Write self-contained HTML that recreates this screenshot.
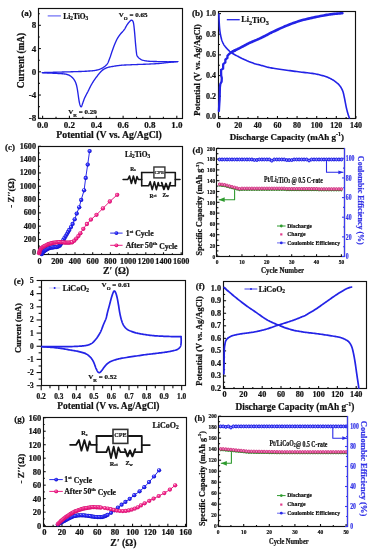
<!DOCTYPE html><html><head><meta charset="utf-8"><style>html,body{margin:0;padding:0;background:#fff;overflow:hidden}svg{display:block;filter:blur(0.3px)}text{font-family:"Liberation Serif", "DejaVu Serif", serif;stroke:currentColor;stroke-width:0.22px}</style></head><body>
<svg xmlns="http://www.w3.org/2000/svg" width="374" height="550" viewBox="0 0 374 550">
<rect width="374" height="550" fill="#fff"/>
<rect x="38.5" y="8.5" width="144" height="110" fill="none" stroke="#111" stroke-width="1.15"/>
<line x1="42.6" y1="118.3" x2="42.6" y2="115.8" stroke="#111" stroke-width="1.1"/>
<text x="42.6" y="125.2" font-size="9" text-anchor="middle" fill="#111" color="#111" font-weight="bold" dominant-baseline="central">0.0</text>
<line x1="69.44" y1="118.3" x2="69.44" y2="115.8" stroke="#111" stroke-width="1.1"/>
<text x="69.44" y="125.2" font-size="9" text-anchor="middle" fill="#111" color="#111" font-weight="bold" dominant-baseline="central">0.2</text>
<line x1="96.28" y1="118.3" x2="96.28" y2="115.8" stroke="#111" stroke-width="1.1"/>
<text x="96.28" y="125.2" font-size="9" text-anchor="middle" fill="#111" color="#111" font-weight="bold" dominant-baseline="central">0.4</text>
<line x1="123.12" y1="118.3" x2="123.12" y2="115.8" stroke="#111" stroke-width="1.1"/>
<text x="123.12" y="125.2" font-size="9" text-anchor="middle" fill="#111" color="#111" font-weight="bold" dominant-baseline="central">0.6</text>
<line x1="149.96" y1="118.3" x2="149.96" y2="115.8" stroke="#111" stroke-width="1.1"/>
<text x="149.96" y="125.2" font-size="9" text-anchor="middle" fill="#111" color="#111" font-weight="bold" dominant-baseline="central">0.8</text>
<line x1="176.8" y1="118.3" x2="176.8" y2="115.8" stroke="#111" stroke-width="1.1"/>
<text x="176.8" y="125.2" font-size="9" text-anchor="middle" fill="#111" color="#111" font-weight="bold" dominant-baseline="central">1.0</text>
<line x1="56.02" y1="118.3" x2="56.02" y2="116.8" stroke="#111" stroke-width="1.1"/>
<line x1="82.86" y1="118.3" x2="82.86" y2="116.8" stroke="#111" stroke-width="1.1"/>
<line x1="109.7" y1="118.3" x2="109.7" y2="116.8" stroke="#111" stroke-width="1.1"/>
<line x1="136.54" y1="118.3" x2="136.54" y2="116.8" stroke="#111" stroke-width="1.1"/>
<line x1="163.38" y1="118.3" x2="163.38" y2="116.8" stroke="#111" stroke-width="1.1"/>
<line x1="38.4" y1="118.28" x2="40.9" y2="118.28" stroke="#111" stroke-width="1.1"/>
<text x="36.3" y="118.28" font-size="9" text-anchor="end" fill="#111" color="#111" font-weight="bold" dominant-baseline="central">-8</text>
<line x1="38.4" y1="95.04" x2="40.9" y2="95.04" stroke="#111" stroke-width="1.1"/>
<text x="36.3" y="95.04" font-size="9" text-anchor="end" fill="#111" color="#111" font-weight="bold" dominant-baseline="central">-4</text>
<line x1="38.4" y1="71.8" x2="40.9" y2="71.8" stroke="#111" stroke-width="1.1"/>
<text x="36.3" y="71.8" font-size="9" text-anchor="end" fill="#111" color="#111" font-weight="bold" dominant-baseline="central">0</text>
<line x1="38.4" y1="48.56" x2="40.9" y2="48.56" stroke="#111" stroke-width="1.1"/>
<text x="36.3" y="48.56" font-size="9" text-anchor="end" fill="#111" color="#111" font-weight="bold" dominant-baseline="central">4</text>
<line x1="38.4" y1="25.32" x2="40.9" y2="25.32" stroke="#111" stroke-width="1.1"/>
<text x="36.3" y="25.32" font-size="9" text-anchor="end" fill="#111" color="#111" font-weight="bold" dominant-baseline="central">8</text>
<line x1="38.4" y1="106.66" x2="39.9" y2="106.66" stroke="#111" stroke-width="1.1"/>
<line x1="38.4" y1="83.42" x2="39.9" y2="83.42" stroke="#111" stroke-width="1.1"/>
<line x1="38.4" y1="60.18" x2="39.9" y2="60.18" stroke="#111" stroke-width="1.1"/>
<line x1="38.4" y1="36.94" x2="39.9" y2="36.94" stroke="#111" stroke-width="1.1"/>
<line x1="38.4" y1="13.7" x2="39.9" y2="13.7" stroke="#111" stroke-width="1.1"/>
<text x="26.5" y="13" font-size="9" text-anchor="middle" fill="#111" color="#111" font-weight="bold" dominant-baseline="central">(a)</text>
<text transform="translate(20.8 60.5) rotate(-90)" font-size="9.3" text-anchor="middle" fill="#111" color="#111" font-weight="bold" dominant-baseline="central">Current (mA)</text>
<text x="109" y="134.8" font-size="9.8" text-anchor="middle" fill="#111" color="#111" font-weight="bold" dominant-baseline="central">Potential (V vs. Ag/AgCl)</text>
<line x1="47.7" y1="15.9" x2="60.9" y2="15.9" stroke="#6b6bf5" stroke-width="1.2"/>
<text x="63.3" y="16.1" font-size="7.4" text-anchor="start" fill="#111" color="#111" font-weight="bold" dominant-baseline="central">Li<tspan font-size="5.4" dy="1.8">2</tspan><tspan dy="-1.8">TiO</tspan><tspan font-size="5.4" dy="1.8">3</tspan></text>
<text x="118.7" y="15" font-size="7" text-anchor="start" fill="#111" color="#111" font-weight="bold" dominant-baseline="central">V<tspan font-size="5" dy="2.5">O</tspan><tspan dy="-2.5"> = 0.65</tspan></text>
<text x="68.3" y="112" font-size="7" text-anchor="start" fill="#111" color="#111" font-weight="bold" dominant-baseline="central">V<tspan font-size="5" dy="3">R</tspan><tspan dy="-3"> = 0.29</tspan></text>
<rect x="218.5" y="11.5" width="137" height="107" fill="none" stroke="#111" stroke-width="1.15"/>
<line x1="218.6" y1="118.5" x2="218.6" y2="116" stroke="#111" stroke-width="1.1"/>
<text x="218.6" y="125" font-size="8" text-anchor="middle" fill="#111" color="#111" font-weight="bold" dominant-baseline="central">0</text>
<line x1="238.22" y1="118.5" x2="238.22" y2="116" stroke="#111" stroke-width="1.1"/>
<text x="238.22" y="125" font-size="8" text-anchor="middle" fill="#111" color="#111" font-weight="bold" dominant-baseline="central">20</text>
<line x1="257.84" y1="118.5" x2="257.84" y2="116" stroke="#111" stroke-width="1.1"/>
<text x="257.84" y="125" font-size="8" text-anchor="middle" fill="#111" color="#111" font-weight="bold" dominant-baseline="central">40</text>
<line x1="277.46" y1="118.5" x2="277.46" y2="116" stroke="#111" stroke-width="1.1"/>
<text x="277.46" y="125" font-size="8" text-anchor="middle" fill="#111" color="#111" font-weight="bold" dominant-baseline="central">60</text>
<line x1="297.08" y1="118.5" x2="297.08" y2="116" stroke="#111" stroke-width="1.1"/>
<text x="297.08" y="125" font-size="8" text-anchor="middle" fill="#111" color="#111" font-weight="bold" dominant-baseline="central">80</text>
<line x1="316.7" y1="118.5" x2="316.7" y2="116" stroke="#111" stroke-width="1.1"/>
<text x="316.7" y="125" font-size="8" text-anchor="middle" fill="#111" color="#111" font-weight="bold" dominant-baseline="central">100</text>
<line x1="336.32" y1="118.5" x2="336.32" y2="116" stroke="#111" stroke-width="1.1"/>
<text x="336.32" y="125" font-size="8" text-anchor="middle" fill="#111" color="#111" font-weight="bold" dominant-baseline="central">120</text>
<line x1="355.94" y1="118.5" x2="355.94" y2="116" stroke="#111" stroke-width="1.1"/>
<text x="355.94" y="125" font-size="8" text-anchor="middle" fill="#111" color="#111" font-weight="bold" dominant-baseline="central">140</text>
<line x1="228.41" y1="118.5" x2="228.41" y2="117" stroke="#111" stroke-width="1.1"/>
<line x1="248.03" y1="118.5" x2="248.03" y2="117" stroke="#111" stroke-width="1.1"/>
<line x1="267.65" y1="118.5" x2="267.65" y2="117" stroke="#111" stroke-width="1.1"/>
<line x1="287.27" y1="118.5" x2="287.27" y2="117" stroke="#111" stroke-width="1.1"/>
<line x1="306.89" y1="118.5" x2="306.89" y2="117" stroke="#111" stroke-width="1.1"/>
<line x1="326.51" y1="118.5" x2="326.51" y2="117" stroke="#111" stroke-width="1.1"/>
<line x1="346.13" y1="118.5" x2="346.13" y2="117" stroke="#111" stroke-width="1.1"/>
<line x1="218.5" y1="116.8" x2="221" y2="116.8" stroke="#111" stroke-width="1.1"/>
<text x="216" y="116.8" font-size="8" text-anchor="end" fill="#111" color="#111" font-weight="bold" dominant-baseline="central">0.0</text>
<line x1="218.5" y1="96.16" x2="221" y2="96.16" stroke="#111" stroke-width="1.1"/>
<text x="216" y="96.16" font-size="8" text-anchor="end" fill="#111" color="#111" font-weight="bold" dominant-baseline="central">0.2</text>
<line x1="218.5" y1="75.52" x2="221" y2="75.52" stroke="#111" stroke-width="1.1"/>
<text x="216" y="75.52" font-size="8" text-anchor="end" fill="#111" color="#111" font-weight="bold" dominant-baseline="central">0.4</text>
<line x1="218.5" y1="54.88" x2="221" y2="54.88" stroke="#111" stroke-width="1.1"/>
<text x="216" y="54.88" font-size="8" text-anchor="end" fill="#111" color="#111" font-weight="bold" dominant-baseline="central">0.6</text>
<line x1="218.5" y1="34.24" x2="221" y2="34.24" stroke="#111" stroke-width="1.1"/>
<text x="216" y="34.24" font-size="8" text-anchor="end" fill="#111" color="#111" font-weight="bold" dominant-baseline="central">0.8</text>
<line x1="218.5" y1="13.6" x2="221" y2="13.6" stroke="#111" stroke-width="1.1"/>
<text x="216" y="13.6" font-size="8" text-anchor="end" fill="#111" color="#111" font-weight="bold" dominant-baseline="central">1.0</text>
<line x1="218.5" y1="106.48" x2="220" y2="106.48" stroke="#111" stroke-width="1.1"/>
<line x1="218.5" y1="85.84" x2="220" y2="85.84" stroke="#111" stroke-width="1.1"/>
<line x1="218.5" y1="65.2" x2="220" y2="65.2" stroke="#111" stroke-width="1.1"/>
<line x1="218.5" y1="44.56" x2="220" y2="44.56" stroke="#111" stroke-width="1.1"/>
<line x1="218.5" y1="23.92" x2="220" y2="23.92" stroke="#111" stroke-width="1.1"/>
<text x="197.4" y="13" font-size="9" text-anchor="middle" fill="#111" color="#111" font-weight="bold" dominant-baseline="central">(b)</text>
<text transform="translate(197.2 70) rotate(-90)" font-size="8.5" text-anchor="middle" fill="#111" color="#111" font-weight="bold" dominant-baseline="central">Potential (V vs. Ag/AgCl)</text>
<text x="286.8" y="137" font-size="9.0" text-anchor="middle" fill="#111" color="#111" font-weight="bold" dominant-baseline="central">Discharge Capacity (mAh g<tspan font-size="6" dy="-3">-1</tspan><tspan dy="3">)</tspan></text>
<rect x="38.5" y="146.5" width="144" height="108" fill="none" stroke="#111" stroke-width="1.15"/>
<line x1="39.6" y1="254.8" x2="39.6" y2="252.3" stroke="#111" stroke-width="1.1"/>
<text x="39.6" y="261" font-size="8.2" text-anchor="middle" fill="#111" color="#111" font-weight="bold" dominant-baseline="central">0</text>
<line x1="57.3" y1="254.8" x2="57.3" y2="252.3" stroke="#111" stroke-width="1.1"/>
<text x="57.3" y="261" font-size="8.2" text-anchor="middle" fill="#111" color="#111" font-weight="bold" dominant-baseline="central">200</text>
<line x1="75" y1="254.8" x2="75" y2="252.3" stroke="#111" stroke-width="1.1"/>
<text x="75" y="261" font-size="8.2" text-anchor="middle" fill="#111" color="#111" font-weight="bold" dominant-baseline="central">400</text>
<line x1="92.7" y1="254.8" x2="92.7" y2="252.3" stroke="#111" stroke-width="1.1"/>
<text x="92.7" y="261" font-size="8.2" text-anchor="middle" fill="#111" color="#111" font-weight="bold" dominant-baseline="central">600</text>
<line x1="110.4" y1="254.8" x2="110.4" y2="252.3" stroke="#111" stroke-width="1.1"/>
<text x="110.4" y="261" font-size="8.2" text-anchor="middle" fill="#111" color="#111" font-weight="bold" dominant-baseline="central">800</text>
<line x1="128.1" y1="254.8" x2="128.1" y2="252.3" stroke="#111" stroke-width="1.1"/>
<text x="128.1" y="261" font-size="8.2" text-anchor="middle" fill="#111" color="#111" font-weight="bold" dominant-baseline="central">1000</text>
<line x1="145.8" y1="254.8" x2="145.8" y2="252.3" stroke="#111" stroke-width="1.1"/>
<text x="145.8" y="261" font-size="8.2" text-anchor="middle" fill="#111" color="#111" font-weight="bold" dominant-baseline="central">1200</text>
<line x1="163.5" y1="254.8" x2="163.5" y2="252.3" stroke="#111" stroke-width="1.1"/>
<text x="163.5" y="261" font-size="8.2" text-anchor="middle" fill="#111" color="#111" font-weight="bold" dominant-baseline="central">1400</text>
<line x1="181.2" y1="254.8" x2="181.2" y2="252.3" stroke="#111" stroke-width="1.1"/>
<text x="181.2" y="261" font-size="8.2" text-anchor="middle" fill="#111" color="#111" font-weight="bold" dominant-baseline="central">1600</text>
<line x1="48.45" y1="254.8" x2="48.45" y2="253.3" stroke="#111" stroke-width="1.1"/>
<line x1="66.15" y1="254.8" x2="66.15" y2="253.3" stroke="#111" stroke-width="1.1"/>
<line x1="83.85" y1="254.8" x2="83.85" y2="253.3" stroke="#111" stroke-width="1.1"/>
<line x1="101.55" y1="254.8" x2="101.55" y2="253.3" stroke="#111" stroke-width="1.1"/>
<line x1="119.25" y1="254.8" x2="119.25" y2="253.3" stroke="#111" stroke-width="1.1"/>
<line x1="136.95" y1="254.8" x2="136.95" y2="253.3" stroke="#111" stroke-width="1.1"/>
<line x1="154.65" y1="254.8" x2="154.65" y2="253.3" stroke="#111" stroke-width="1.1"/>
<line x1="172.35" y1="254.8" x2="172.35" y2="253.3" stroke="#111" stroke-width="1.1"/>
<line x1="38.4" y1="252.8" x2="40.9" y2="252.8" stroke="#111" stroke-width="1.1"/>
<text x="36" y="252.8" font-size="8.2" text-anchor="end" fill="#111" color="#111" font-weight="bold" dominant-baseline="central">0</text>
<line x1="38.4" y1="239.49" x2="40.9" y2="239.49" stroke="#111" stroke-width="1.1"/>
<text x="36" y="239.49" font-size="8.2" text-anchor="end" fill="#111" color="#111" font-weight="bold" dominant-baseline="central">200</text>
<line x1="38.4" y1="226.18" x2="40.9" y2="226.18" stroke="#111" stroke-width="1.1"/>
<text x="36" y="226.18" font-size="8.2" text-anchor="end" fill="#111" color="#111" font-weight="bold" dominant-baseline="central">400</text>
<line x1="38.4" y1="212.86" x2="40.9" y2="212.86" stroke="#111" stroke-width="1.1"/>
<text x="36" y="212.86" font-size="8.2" text-anchor="end" fill="#111" color="#111" font-weight="bold" dominant-baseline="central">600</text>
<line x1="38.4" y1="199.55" x2="40.9" y2="199.55" stroke="#111" stroke-width="1.1"/>
<text x="36" y="199.55" font-size="8.2" text-anchor="end" fill="#111" color="#111" font-weight="bold" dominant-baseline="central">800</text>
<line x1="38.4" y1="186.24" x2="40.9" y2="186.24" stroke="#111" stroke-width="1.1"/>
<text x="36" y="186.24" font-size="8.2" text-anchor="end" fill="#111" color="#111" font-weight="bold" dominant-baseline="central">1000</text>
<line x1="38.4" y1="172.93" x2="40.9" y2="172.93" stroke="#111" stroke-width="1.1"/>
<text x="36" y="172.93" font-size="8.2" text-anchor="end" fill="#111" color="#111" font-weight="bold" dominant-baseline="central">1200</text>
<line x1="38.4" y1="159.62" x2="40.9" y2="159.62" stroke="#111" stroke-width="1.1"/>
<text x="36" y="159.62" font-size="8.2" text-anchor="end" fill="#111" color="#111" font-weight="bold" dominant-baseline="central">1400</text>
<line x1="38.4" y1="146.3" x2="40.9" y2="146.3" stroke="#111" stroke-width="1.1"/>
<text x="36" y="146.3" font-size="8.2" text-anchor="end" fill="#111" color="#111" font-weight="bold" dominant-baseline="central">1600</text>
<line x1="38.4" y1="246.14" x2="39.9" y2="246.14" stroke="#111" stroke-width="1.1"/>
<line x1="38.4" y1="232.83" x2="39.9" y2="232.83" stroke="#111" stroke-width="1.1"/>
<line x1="38.4" y1="219.52" x2="39.9" y2="219.52" stroke="#111" stroke-width="1.1"/>
<line x1="38.4" y1="206.21" x2="39.9" y2="206.21" stroke="#111" stroke-width="1.1"/>
<line x1="38.4" y1="192.9" x2="39.9" y2="192.9" stroke="#111" stroke-width="1.1"/>
<line x1="38.4" y1="179.58" x2="39.9" y2="179.58" stroke="#111" stroke-width="1.1"/>
<line x1="38.4" y1="166.27" x2="39.9" y2="166.27" stroke="#111" stroke-width="1.1"/>
<line x1="38.4" y1="152.96" x2="39.9" y2="152.96" stroke="#111" stroke-width="1.1"/>
<text x="10" y="147.1" font-size="9" text-anchor="middle" fill="#111" color="#111" font-weight="bold" dominant-baseline="central">(c)</text>
<text transform="translate(10.9 193) rotate(-90)" font-size="9.0" text-anchor="middle" fill="#111" color="#111" font-weight="bold" dominant-baseline="central">- Z&#8242;&#8242;(&#937;)</text>
<text x="116" y="270.9" font-size="9.8" text-anchor="middle" fill="#111" color="#111" font-weight="bold" dominant-baseline="central">Z&#8242; (&#937;)</text>
<rect x="216.5" y="148.5" width="128" height="108" fill="none" stroke="#111" stroke-width="1.15"/>
<line x1="217.1" y1="256.7" x2="217.1" y2="254.2" stroke="#111" stroke-width="1.1"/>
<text transform="translate(217.1 261.4) scale(0.8 1)" font-size="6.8" text-anchor="middle" fill="#111" color="#111" font-weight="bold" dominant-baseline="central">0</text>
<line x1="241.96" y1="256.7" x2="241.96" y2="254.2" stroke="#111" stroke-width="1.1"/>
<text transform="translate(241.96 261.4) scale(0.8 1)" font-size="6.8" text-anchor="middle" fill="#111" color="#111" font-weight="bold" dominant-baseline="central">10</text>
<line x1="266.82" y1="256.7" x2="266.82" y2="254.2" stroke="#111" stroke-width="1.1"/>
<text transform="translate(266.82 261.4) scale(0.8 1)" font-size="6.8" text-anchor="middle" fill="#111" color="#111" font-weight="bold" dominant-baseline="central">20</text>
<line x1="291.68" y1="256.7" x2="291.68" y2="254.2" stroke="#111" stroke-width="1.1"/>
<text transform="translate(291.68 261.4) scale(0.8 1)" font-size="6.8" text-anchor="middle" fill="#111" color="#111" font-weight="bold" dominant-baseline="central">30</text>
<line x1="316.54" y1="256.7" x2="316.54" y2="254.2" stroke="#111" stroke-width="1.1"/>
<text transform="translate(316.54 261.4) scale(0.8 1)" font-size="6.8" text-anchor="middle" fill="#111" color="#111" font-weight="bold" dominant-baseline="central">40</text>
<line x1="341.4" y1="256.7" x2="341.4" y2="254.2" stroke="#111" stroke-width="1.1"/>
<text transform="translate(341.4 261.4) scale(0.8 1)" font-size="6.8" text-anchor="middle" fill="#111" color="#111" font-weight="bold" dominant-baseline="central">50</text>
<line x1="229.53" y1="256.7" x2="229.53" y2="255.2" stroke="#111" stroke-width="1.1"/>
<line x1="254.39" y1="256.7" x2="254.39" y2="255.2" stroke="#111" stroke-width="1.1"/>
<line x1="279.25" y1="256.7" x2="279.25" y2="255.2" stroke="#111" stroke-width="1.1"/>
<line x1="304.11" y1="256.7" x2="304.11" y2="255.2" stroke="#111" stroke-width="1.1"/>
<line x1="328.97" y1="256.7" x2="328.97" y2="255.2" stroke="#111" stroke-width="1.1"/>
<line x1="216.9" y1="256.3" x2="219.4" y2="256.3" stroke="#111" stroke-width="1.1"/>
<text transform="translate(215.2 256.3) scale(0.8 1)" font-size="6.8" text-anchor="end" fill="#111" color="#111" font-weight="bold" dominant-baseline="central">0</text>
<line x1="216.9" y1="245.5" x2="219.4" y2="245.5" stroke="#111" stroke-width="1.1"/>
<text transform="translate(215.2 245.5) scale(0.8 1)" font-size="6.8" text-anchor="end" fill="#111" color="#111" font-weight="bold" dominant-baseline="central">20</text>
<line x1="216.9" y1="234.7" x2="219.4" y2="234.7" stroke="#111" stroke-width="1.1"/>
<text transform="translate(215.2 234.7) scale(0.8 1)" font-size="6.8" text-anchor="end" fill="#111" color="#111" font-weight="bold" dominant-baseline="central">40</text>
<line x1="216.9" y1="223.9" x2="219.4" y2="223.9" stroke="#111" stroke-width="1.1"/>
<text transform="translate(215.2 223.9) scale(0.8 1)" font-size="6.8" text-anchor="end" fill="#111" color="#111" font-weight="bold" dominant-baseline="central">60</text>
<line x1="216.9" y1="213.1" x2="219.4" y2="213.1" stroke="#111" stroke-width="1.1"/>
<text transform="translate(215.2 213.1) scale(0.8 1)" font-size="6.8" text-anchor="end" fill="#111" color="#111" font-weight="bold" dominant-baseline="central">80</text>
<line x1="216.9" y1="202.3" x2="219.4" y2="202.3" stroke="#111" stroke-width="1.1"/>
<text transform="translate(215.2 202.3) scale(0.8 1)" font-size="6.8" text-anchor="end" fill="#111" color="#111" font-weight="bold" dominant-baseline="central">100</text>
<line x1="216.9" y1="191.5" x2="219.4" y2="191.5" stroke="#111" stroke-width="1.1"/>
<text transform="translate(215.2 191.5) scale(0.8 1)" font-size="6.8" text-anchor="end" fill="#111" color="#111" font-weight="bold" dominant-baseline="central">120</text>
<line x1="216.9" y1="180.7" x2="219.4" y2="180.7" stroke="#111" stroke-width="1.1"/>
<text transform="translate(215.2 180.7) scale(0.8 1)" font-size="6.8" text-anchor="end" fill="#111" color="#111" font-weight="bold" dominant-baseline="central">140</text>
<line x1="216.9" y1="169.9" x2="219.4" y2="169.9" stroke="#111" stroke-width="1.1"/>
<text transform="translate(215.2 169.9) scale(0.8 1)" font-size="6.8" text-anchor="end" fill="#111" color="#111" font-weight="bold" dominant-baseline="central">160</text>
<line x1="216.9" y1="159.1" x2="219.4" y2="159.1" stroke="#111" stroke-width="1.1"/>
<text transform="translate(215.2 159.1) scale(0.8 1)" font-size="6.8" text-anchor="end" fill="#111" color="#111" font-weight="bold" dominant-baseline="central">180</text>
<line x1="216.9" y1="148.3" x2="219.4" y2="148.3" stroke="#111" stroke-width="1.1"/>
<text transform="translate(215.2 148.3) scale(0.8 1)" font-size="6.8" text-anchor="end" fill="#111" color="#111" font-weight="bold" dominant-baseline="central">200</text>
<line x1="216.9" y1="250.9" x2="218.4" y2="250.9" stroke="#111" stroke-width="1.1"/>
<line x1="216.9" y1="240.1" x2="218.4" y2="240.1" stroke="#111" stroke-width="1.1"/>
<line x1="216.9" y1="229.3" x2="218.4" y2="229.3" stroke="#111" stroke-width="1.1"/>
<line x1="216.9" y1="218.5" x2="218.4" y2="218.5" stroke="#111" stroke-width="1.1"/>
<line x1="216.9" y1="207.7" x2="218.4" y2="207.7" stroke="#111" stroke-width="1.1"/>
<line x1="216.9" y1="196.9" x2="218.4" y2="196.9" stroke="#111" stroke-width="1.1"/>
<line x1="216.9" y1="186.1" x2="218.4" y2="186.1" stroke="#111" stroke-width="1.1"/>
<line x1="216.9" y1="175.3" x2="218.4" y2="175.3" stroke="#111" stroke-width="1.1"/>
<line x1="216.9" y1="164.5" x2="218.4" y2="164.5" stroke="#111" stroke-width="1.1"/>
<line x1="216.9" y1="153.7" x2="218.4" y2="153.7" stroke="#111" stroke-width="1.1"/>
<text x="197.8" y="150.4" font-size="8.6" text-anchor="middle" fill="#111" color="#111" font-weight="bold" dominant-baseline="central">(d)</text>
<text transform="translate(282.6 270.8) scale(0.86 1)" font-size="8.1" text-anchor="middle" fill="#111" color="#111" font-weight="bold" dominant-baseline="central">Cycle Number</text>
<rect x="41.5" y="280.5" width="144" height="105" fill="none" stroke="#111" stroke-width="1.15"/>
<line x1="41.2" y1="385.7" x2="41.2" y2="390.3" stroke="#111" stroke-width="1.1"/>
<text x="41.2" y="396.2" font-size="7.4" text-anchor="middle" fill="#111" color="#111" font-weight="bold" dominant-baseline="central">0.2</text>
<line x1="58.76" y1="385.7" x2="58.76" y2="390.3" stroke="#111" stroke-width="1.1"/>
<text x="58.76" y="396.2" font-size="7.4" text-anchor="middle" fill="#111" color="#111" font-weight="bold" dominant-baseline="central">0.3</text>
<line x1="76.32" y1="385.7" x2="76.32" y2="390.3" stroke="#111" stroke-width="1.1"/>
<text x="76.32" y="396.2" font-size="7.4" text-anchor="middle" fill="#111" color="#111" font-weight="bold" dominant-baseline="central">0.4</text>
<line x1="93.88" y1="385.7" x2="93.88" y2="390.3" stroke="#111" stroke-width="1.1"/>
<text x="93.88" y="396.2" font-size="7.4" text-anchor="middle" fill="#111" color="#111" font-weight="bold" dominant-baseline="central">0.5</text>
<line x1="111.44" y1="385.7" x2="111.44" y2="390.3" stroke="#111" stroke-width="1.1"/>
<text x="111.44" y="396.2" font-size="7.4" text-anchor="middle" fill="#111" color="#111" font-weight="bold" dominant-baseline="central">0.6</text>
<line x1="129" y1="385.7" x2="129" y2="390.3" stroke="#111" stroke-width="1.1"/>
<text x="129" y="396.2" font-size="7.4" text-anchor="middle" fill="#111" color="#111" font-weight="bold" dominant-baseline="central">0.7</text>
<line x1="146.56" y1="385.7" x2="146.56" y2="390.3" stroke="#111" stroke-width="1.1"/>
<text x="146.56" y="396.2" font-size="7.4" text-anchor="middle" fill="#111" color="#111" font-weight="bold" dominant-baseline="central">0.8</text>
<line x1="164.12" y1="385.7" x2="164.12" y2="390.3" stroke="#111" stroke-width="1.1"/>
<text x="164.12" y="396.2" font-size="7.4" text-anchor="middle" fill="#111" color="#111" font-weight="bold" dominant-baseline="central">0.9</text>
<line x1="181.68" y1="385.7" x2="181.68" y2="390.3" stroke="#111" stroke-width="1.1"/>
<text x="181.68" y="396.2" font-size="7.4" text-anchor="middle" fill="#111" color="#111" font-weight="bold" dominant-baseline="central">1.0</text>
<line x1="49.98" y1="385.7" x2="49.98" y2="388.3" stroke="#111" stroke-width="1.1"/>
<line x1="67.54" y1="385.7" x2="67.54" y2="388.3" stroke="#111" stroke-width="1.1"/>
<line x1="85.1" y1="385.7" x2="85.1" y2="388.3" stroke="#111" stroke-width="1.1"/>
<line x1="102.66" y1="385.7" x2="102.66" y2="388.3" stroke="#111" stroke-width="1.1"/>
<line x1="120.22" y1="385.7" x2="120.22" y2="388.3" stroke="#111" stroke-width="1.1"/>
<line x1="137.78" y1="385.7" x2="137.78" y2="388.3" stroke="#111" stroke-width="1.1"/>
<line x1="155.34" y1="385.7" x2="155.34" y2="388.3" stroke="#111" stroke-width="1.1"/>
<line x1="172.9" y1="385.7" x2="172.9" y2="388.3" stroke="#111" stroke-width="1.1"/>
<line x1="41.2" y1="385.7" x2="36.6" y2="385.7" stroke="#111" stroke-width="1.1"/>
<text x="33.6" y="385.7" font-size="7.4" text-anchor="end" fill="#111" color="#111" font-weight="bold" dominant-baseline="central">-3</text>
<line x1="41.2" y1="372.55" x2="36.6" y2="372.55" stroke="#111" stroke-width="1.1"/>
<text x="33.6" y="372.55" font-size="7.4" text-anchor="end" fill="#111" color="#111" font-weight="bold" dominant-baseline="central">-2</text>
<line x1="41.2" y1="359.4" x2="36.6" y2="359.4" stroke="#111" stroke-width="1.1"/>
<text x="33.6" y="359.4" font-size="7.4" text-anchor="end" fill="#111" color="#111" font-weight="bold" dominant-baseline="central">-1</text>
<line x1="41.2" y1="346.25" x2="36.6" y2="346.25" stroke="#111" stroke-width="1.1"/>
<text x="33.6" y="346.25" font-size="7.4" text-anchor="end" fill="#111" color="#111" font-weight="bold" dominant-baseline="central">0</text>
<line x1="41.2" y1="333.1" x2="36.6" y2="333.1" stroke="#111" stroke-width="1.1"/>
<text x="33.6" y="333.1" font-size="7.4" text-anchor="end" fill="#111" color="#111" font-weight="bold" dominant-baseline="central">1</text>
<line x1="41.2" y1="319.95" x2="36.6" y2="319.95" stroke="#111" stroke-width="1.1"/>
<text x="33.6" y="319.95" font-size="7.4" text-anchor="end" fill="#111" color="#111" font-weight="bold" dominant-baseline="central">2</text>
<line x1="41.2" y1="306.8" x2="36.6" y2="306.8" stroke="#111" stroke-width="1.1"/>
<text x="33.6" y="306.8" font-size="7.4" text-anchor="end" fill="#111" color="#111" font-weight="bold" dominant-baseline="central">3</text>
<line x1="41.2" y1="293.65" x2="36.6" y2="293.65" stroke="#111" stroke-width="1.1"/>
<text x="33.6" y="293.65" font-size="7.4" text-anchor="end" fill="#111" color="#111" font-weight="bold" dominant-baseline="central">4</text>
<line x1="41.2" y1="280.5" x2="36.6" y2="280.5" stroke="#111" stroke-width="1.1"/>
<text x="33.6" y="280.5" font-size="7.4" text-anchor="end" fill="#111" color="#111" font-weight="bold" dominant-baseline="central">5</text>
<line x1="41.2" y1="379.12" x2="38.6" y2="379.12" stroke="#111" stroke-width="1.1"/>
<line x1="41.2" y1="365.98" x2="38.6" y2="365.98" stroke="#111" stroke-width="1.1"/>
<line x1="41.2" y1="352.82" x2="38.6" y2="352.82" stroke="#111" stroke-width="1.1"/>
<line x1="41.2" y1="339.68" x2="38.6" y2="339.68" stroke="#111" stroke-width="1.1"/>
<line x1="41.2" y1="326.52" x2="38.6" y2="326.52" stroke="#111" stroke-width="1.1"/>
<line x1="41.2" y1="313.38" x2="38.6" y2="313.38" stroke="#111" stroke-width="1.1"/>
<line x1="41.2" y1="300.23" x2="38.6" y2="300.23" stroke="#111" stroke-width="1.1"/>
<line x1="41.2" y1="287.07" x2="38.6" y2="287.07" stroke="#111" stroke-width="1.1"/>
<text x="18.8" y="280.5" font-size="9" text-anchor="middle" fill="#111" color="#111" font-weight="bold" dominant-baseline="central">(e)</text>
<rect x="223.5" y="281.5" width="143" height="107" fill="none" stroke="#111" stroke-width="1.15"/>
<line x1="224.6" y1="388.5" x2="224.6" y2="386" stroke="#111" stroke-width="1.1"/>
<text x="224.6" y="394.8" font-size="8.2" text-anchor="middle" fill="#111" color="#111" font-weight="bold" dominant-baseline="central">0</text>
<line x1="243.4" y1="388.5" x2="243.4" y2="386" stroke="#111" stroke-width="1.1"/>
<text x="243.4" y="394.8" font-size="8.2" text-anchor="middle" fill="#111" color="#111" font-weight="bold" dominant-baseline="central">20</text>
<line x1="262.2" y1="388.5" x2="262.2" y2="386" stroke="#111" stroke-width="1.1"/>
<text x="262.2" y="394.8" font-size="8.2" text-anchor="middle" fill="#111" color="#111" font-weight="bold" dominant-baseline="central">40</text>
<line x1="281" y1="388.5" x2="281" y2="386" stroke="#111" stroke-width="1.1"/>
<text x="281" y="394.8" font-size="8.2" text-anchor="middle" fill="#111" color="#111" font-weight="bold" dominant-baseline="central">60</text>
<line x1="299.8" y1="388.5" x2="299.8" y2="386" stroke="#111" stroke-width="1.1"/>
<text x="299.8" y="394.8" font-size="8.2" text-anchor="middle" fill="#111" color="#111" font-weight="bold" dominant-baseline="central">80</text>
<line x1="318.6" y1="388.5" x2="318.6" y2="386" stroke="#111" stroke-width="1.1"/>
<text x="318.6" y="394.8" font-size="8.2" text-anchor="middle" fill="#111" color="#111" font-weight="bold" dominant-baseline="central">100</text>
<line x1="337.4" y1="388.5" x2="337.4" y2="386" stroke="#111" stroke-width="1.1"/>
<text x="337.4" y="394.8" font-size="8.2" text-anchor="middle" fill="#111" color="#111" font-weight="bold" dominant-baseline="central">120</text>
<line x1="356.2" y1="388.5" x2="356.2" y2="386" stroke="#111" stroke-width="1.1"/>
<text x="356.2" y="394.8" font-size="8.2" text-anchor="middle" fill="#111" color="#111" font-weight="bold" dominant-baseline="central">140</text>
<line x1="234" y1="388.5" x2="234" y2="387" stroke="#111" stroke-width="1.1"/>
<line x1="252.8" y1="388.5" x2="252.8" y2="387" stroke="#111" stroke-width="1.1"/>
<line x1="271.6" y1="388.5" x2="271.6" y2="387" stroke="#111" stroke-width="1.1"/>
<line x1="290.4" y1="388.5" x2="290.4" y2="387" stroke="#111" stroke-width="1.1"/>
<line x1="309.2" y1="388.5" x2="309.2" y2="387" stroke="#111" stroke-width="1.1"/>
<line x1="328" y1="388.5" x2="328" y2="387" stroke="#111" stroke-width="1.1"/>
<line x1="346.8" y1="388.5" x2="346.8" y2="387" stroke="#111" stroke-width="1.1"/>
<line x1="223.6" y1="388.5" x2="226.1" y2="388.5" stroke="#111" stroke-width="1.1"/>
<text x="221" y="388.5" font-size="8.2" text-anchor="end" fill="#111" color="#111" font-weight="bold" dominant-baseline="central">0.2</text>
<line x1="223.6" y1="375.96" x2="226.1" y2="375.96" stroke="#111" stroke-width="1.1"/>
<text x="221" y="375.96" font-size="8.2" text-anchor="end" fill="#111" color="#111" font-weight="bold" dominant-baseline="central">0.3</text>
<line x1="223.6" y1="363.42" x2="226.1" y2="363.42" stroke="#111" stroke-width="1.1"/>
<text x="221" y="363.42" font-size="8.2" text-anchor="end" fill="#111" color="#111" font-weight="bold" dominant-baseline="central">0.4</text>
<line x1="223.6" y1="350.88" x2="226.1" y2="350.88" stroke="#111" stroke-width="1.1"/>
<text x="221" y="350.88" font-size="8.2" text-anchor="end" fill="#111" color="#111" font-weight="bold" dominant-baseline="central">0.5</text>
<line x1="223.6" y1="338.34" x2="226.1" y2="338.34" stroke="#111" stroke-width="1.1"/>
<text x="221" y="338.34" font-size="8.2" text-anchor="end" fill="#111" color="#111" font-weight="bold" dominant-baseline="central">0.6</text>
<line x1="223.6" y1="325.8" x2="226.1" y2="325.8" stroke="#111" stroke-width="1.1"/>
<text x="221" y="325.8" font-size="8.2" text-anchor="end" fill="#111" color="#111" font-weight="bold" dominant-baseline="central">0.7</text>
<line x1="223.6" y1="313.26" x2="226.1" y2="313.26" stroke="#111" stroke-width="1.1"/>
<text x="221" y="313.26" font-size="8.2" text-anchor="end" fill="#111" color="#111" font-weight="bold" dominant-baseline="central">0.8</text>
<line x1="223.6" y1="300.72" x2="226.1" y2="300.72" stroke="#111" stroke-width="1.1"/>
<text x="221" y="300.72" font-size="8.2" text-anchor="end" fill="#111" color="#111" font-weight="bold" dominant-baseline="central">0.9</text>
<line x1="223.6" y1="288.18" x2="226.1" y2="288.18" stroke="#111" stroke-width="1.1"/>
<text x="221" y="288.18" font-size="8.2" text-anchor="end" fill="#111" color="#111" font-weight="bold" dominant-baseline="central">1.0</text>
<line x1="223.6" y1="382.23" x2="225.1" y2="382.23" stroke="#111" stroke-width="1.1"/>
<line x1="223.6" y1="369.69" x2="225.1" y2="369.69" stroke="#111" stroke-width="1.1"/>
<line x1="223.6" y1="357.15" x2="225.1" y2="357.15" stroke="#111" stroke-width="1.1"/>
<line x1="223.6" y1="344.61" x2="225.1" y2="344.61" stroke="#111" stroke-width="1.1"/>
<line x1="223.6" y1="332.07" x2="225.1" y2="332.07" stroke="#111" stroke-width="1.1"/>
<line x1="223.6" y1="319.53" x2="225.1" y2="319.53" stroke="#111" stroke-width="1.1"/>
<line x1="223.6" y1="306.99" x2="225.1" y2="306.99" stroke="#111" stroke-width="1.1"/>
<line x1="223.6" y1="294.45" x2="225.1" y2="294.45" stroke="#111" stroke-width="1.1"/>
<text x="200.3" y="286.2" font-size="9" text-anchor="middle" fill="#111" color="#111" font-weight="bold" dominant-baseline="central">(f)</text>
<rect x="43.5" y="417.5" width="143" height="109" fill="none" stroke="#111" stroke-width="1.15"/>
<line x1="44.3" y1="526.3" x2="44.3" y2="523.8" stroke="#111" stroke-width="1.1"/>
<text x="44.3" y="532.3" font-size="8.5" text-anchor="middle" fill="#111" color="#111" font-weight="bold" dominant-baseline="central">0</text>
<line x1="61.95" y1="526.3" x2="61.95" y2="523.8" stroke="#111" stroke-width="1.1"/>
<text x="61.95" y="532.3" font-size="8.5" text-anchor="middle" fill="#111" color="#111" font-weight="bold" dominant-baseline="central">20</text>
<line x1="79.6" y1="526.3" x2="79.6" y2="523.8" stroke="#111" stroke-width="1.1"/>
<text x="79.6" y="532.3" font-size="8.5" text-anchor="middle" fill="#111" color="#111" font-weight="bold" dominant-baseline="central">40</text>
<line x1="97.25" y1="526.3" x2="97.25" y2="523.8" stroke="#111" stroke-width="1.1"/>
<text x="97.25" y="532.3" font-size="8.5" text-anchor="middle" fill="#111" color="#111" font-weight="bold" dominant-baseline="central">60</text>
<line x1="114.9" y1="526.3" x2="114.9" y2="523.8" stroke="#111" stroke-width="1.1"/>
<text x="114.9" y="532.3" font-size="8.5" text-anchor="middle" fill="#111" color="#111" font-weight="bold" dominant-baseline="central">80</text>
<line x1="132.55" y1="526.3" x2="132.55" y2="523.8" stroke="#111" stroke-width="1.1"/>
<text x="132.55" y="532.3" font-size="8.5" text-anchor="middle" fill="#111" color="#111" font-weight="bold" dominant-baseline="central">100</text>
<line x1="150.2" y1="526.3" x2="150.2" y2="523.8" stroke="#111" stroke-width="1.1"/>
<text x="150.2" y="532.3" font-size="8.5" text-anchor="middle" fill="#111" color="#111" font-weight="bold" dominant-baseline="central">120</text>
<line x1="167.85" y1="526.3" x2="167.85" y2="523.8" stroke="#111" stroke-width="1.1"/>
<text x="167.85" y="532.3" font-size="8.5" text-anchor="middle" fill="#111" color="#111" font-weight="bold" dominant-baseline="central">140</text>
<line x1="185.5" y1="526.3" x2="185.5" y2="523.8" stroke="#111" stroke-width="1.1"/>
<text x="185.5" y="532.3" font-size="8.5" text-anchor="middle" fill="#111" color="#111" font-weight="bold" dominant-baseline="central">160</text>
<line x1="53.12" y1="526.3" x2="53.12" y2="524.8" stroke="#111" stroke-width="1.1"/>
<line x1="70.77" y1="526.3" x2="70.77" y2="524.8" stroke="#111" stroke-width="1.1"/>
<line x1="88.42" y1="526.3" x2="88.42" y2="524.8" stroke="#111" stroke-width="1.1"/>
<line x1="106.07" y1="526.3" x2="106.07" y2="524.8" stroke="#111" stroke-width="1.1"/>
<line x1="123.72" y1="526.3" x2="123.72" y2="524.8" stroke="#111" stroke-width="1.1"/>
<line x1="141.38" y1="526.3" x2="141.38" y2="524.8" stroke="#111" stroke-width="1.1"/>
<line x1="159.02" y1="526.3" x2="159.02" y2="524.8" stroke="#111" stroke-width="1.1"/>
<line x1="176.68" y1="526.3" x2="176.68" y2="524.8" stroke="#111" stroke-width="1.1"/>
<line x1="43.2" y1="525.6" x2="45.7" y2="525.6" stroke="#111" stroke-width="1.1"/>
<text x="41.2" y="525.6" font-size="8.5" text-anchor="end" fill="#111" color="#111" font-weight="bold" dominant-baseline="central">0</text>
<line x1="43.2" y1="512.12" x2="45.7" y2="512.12" stroke="#111" stroke-width="1.1"/>
<text x="41.2" y="512.12" font-size="8.5" text-anchor="end" fill="#111" color="#111" font-weight="bold" dominant-baseline="central">20</text>
<line x1="43.2" y1="498.64" x2="45.7" y2="498.64" stroke="#111" stroke-width="1.1"/>
<text x="41.2" y="498.64" font-size="8.5" text-anchor="end" fill="#111" color="#111" font-weight="bold" dominant-baseline="central">40</text>
<line x1="43.2" y1="485.16" x2="45.7" y2="485.16" stroke="#111" stroke-width="1.1"/>
<text x="41.2" y="485.16" font-size="8.5" text-anchor="end" fill="#111" color="#111" font-weight="bold" dominant-baseline="central">60</text>
<line x1="43.2" y1="471.68" x2="45.7" y2="471.68" stroke="#111" stroke-width="1.1"/>
<text x="41.2" y="471.68" font-size="8.5" text-anchor="end" fill="#111" color="#111" font-weight="bold" dominant-baseline="central">80</text>
<line x1="43.2" y1="458.2" x2="45.7" y2="458.2" stroke="#111" stroke-width="1.1"/>
<text x="41.2" y="458.2" font-size="8.5" text-anchor="end" fill="#111" color="#111" font-weight="bold" dominant-baseline="central">100</text>
<line x1="43.2" y1="444.72" x2="45.7" y2="444.72" stroke="#111" stroke-width="1.1"/>
<text x="41.2" y="444.72" font-size="8.5" text-anchor="end" fill="#111" color="#111" font-weight="bold" dominant-baseline="central">120</text>
<line x1="43.2" y1="431.24" x2="45.7" y2="431.24" stroke="#111" stroke-width="1.1"/>
<text x="41.2" y="431.24" font-size="8.5" text-anchor="end" fill="#111" color="#111" font-weight="bold" dominant-baseline="central">140</text>
<line x1="43.2" y1="417.76" x2="45.7" y2="417.76" stroke="#111" stroke-width="1.1"/>
<text x="41.2" y="417.76" font-size="8.5" text-anchor="end" fill="#111" color="#111" font-weight="bold" dominant-baseline="central">160</text>
<line x1="43.2" y1="518.86" x2="44.7" y2="518.86" stroke="#111" stroke-width="1.1"/>
<line x1="43.2" y1="505.38" x2="44.7" y2="505.38" stroke="#111" stroke-width="1.1"/>
<line x1="43.2" y1="491.9" x2="44.7" y2="491.9" stroke="#111" stroke-width="1.1"/>
<line x1="43.2" y1="478.42" x2="44.7" y2="478.42" stroke="#111" stroke-width="1.1"/>
<line x1="43.2" y1="464.94" x2="44.7" y2="464.94" stroke="#111" stroke-width="1.1"/>
<line x1="43.2" y1="451.46" x2="44.7" y2="451.46" stroke="#111" stroke-width="1.1"/>
<line x1="43.2" y1="437.98" x2="44.7" y2="437.98" stroke="#111" stroke-width="1.1"/>
<line x1="43.2" y1="424.5" x2="44.7" y2="424.5" stroke="#111" stroke-width="1.1"/>
<text x="19.5" y="419.3" font-size="9" text-anchor="middle" fill="#111" color="#111" font-weight="bold" dominant-baseline="central">(g)</text>
<rect x="218.5" y="416.5" width="129" height="110" fill="none" stroke="#111" stroke-width="1.15"/>
<line x1="218.1" y1="526.5" x2="218.1" y2="524" stroke="#111" stroke-width="1.1"/>
<text transform="translate(218.1 531.6) scale(0.8 1)" font-size="6.8" text-anchor="middle" fill="#111" color="#111" font-weight="bold" dominant-baseline="central">0</text>
<line x1="243.7" y1="526.5" x2="243.7" y2="524" stroke="#111" stroke-width="1.1"/>
<text transform="translate(243.7 531.6) scale(0.8 1)" font-size="6.8" text-anchor="middle" fill="#111" color="#111" font-weight="bold" dominant-baseline="central">10</text>
<line x1="269.3" y1="526.5" x2="269.3" y2="524" stroke="#111" stroke-width="1.1"/>
<text transform="translate(269.3 531.6) scale(0.8 1)" font-size="6.8" text-anchor="middle" fill="#111" color="#111" font-weight="bold" dominant-baseline="central">20</text>
<line x1="294.9" y1="526.5" x2="294.9" y2="524" stroke="#111" stroke-width="1.1"/>
<text transform="translate(294.9 531.6) scale(0.8 1)" font-size="6.8" text-anchor="middle" fill="#111" color="#111" font-weight="bold" dominant-baseline="central">30</text>
<line x1="320.5" y1="526.5" x2="320.5" y2="524" stroke="#111" stroke-width="1.1"/>
<text transform="translate(320.5 531.6) scale(0.8 1)" font-size="6.8" text-anchor="middle" fill="#111" color="#111" font-weight="bold" dominant-baseline="central">40</text>
<line x1="346.1" y1="526.5" x2="346.1" y2="524" stroke="#111" stroke-width="1.1"/>
<text transform="translate(346.1 531.6) scale(0.8 1)" font-size="6.8" text-anchor="middle" fill="#111" color="#111" font-weight="bold" dominant-baseline="central">50</text>
<line x1="230.9" y1="526.5" x2="230.9" y2="525" stroke="#111" stroke-width="1.1"/>
<line x1="256.5" y1="526.5" x2="256.5" y2="525" stroke="#111" stroke-width="1.1"/>
<line x1="282.1" y1="526.5" x2="282.1" y2="525" stroke="#111" stroke-width="1.1"/>
<line x1="307.7" y1="526.5" x2="307.7" y2="525" stroke="#111" stroke-width="1.1"/>
<line x1="333.3" y1="526.5" x2="333.3" y2="525" stroke="#111" stroke-width="1.1"/>
<line x1="218.6" y1="526.2" x2="221.1" y2="526.2" stroke="#111" stroke-width="1.1"/>
<text transform="translate(216.7 526.2) scale(0.8 1)" font-size="6.8" text-anchor="end" fill="#111" color="#111" font-weight="bold" dominant-baseline="central">0</text>
<line x1="218.6" y1="515.2" x2="221.1" y2="515.2" stroke="#111" stroke-width="1.1"/>
<text transform="translate(216.7 515.2) scale(0.8 1)" font-size="6.8" text-anchor="end" fill="#111" color="#111" font-weight="bold" dominant-baseline="central">20</text>
<line x1="218.6" y1="504.2" x2="221.1" y2="504.2" stroke="#111" stroke-width="1.1"/>
<text transform="translate(216.7 504.2) scale(0.8 1)" font-size="6.8" text-anchor="end" fill="#111" color="#111" font-weight="bold" dominant-baseline="central">40</text>
<line x1="218.6" y1="493.2" x2="221.1" y2="493.2" stroke="#111" stroke-width="1.1"/>
<text transform="translate(216.7 493.2) scale(0.8 1)" font-size="6.8" text-anchor="end" fill="#111" color="#111" font-weight="bold" dominant-baseline="central">60</text>
<line x1="218.6" y1="482.2" x2="221.1" y2="482.2" stroke="#111" stroke-width="1.1"/>
<text transform="translate(216.7 482.2) scale(0.8 1)" font-size="6.8" text-anchor="end" fill="#111" color="#111" font-weight="bold" dominant-baseline="central">80</text>
<line x1="218.6" y1="471.2" x2="221.1" y2="471.2" stroke="#111" stroke-width="1.1"/>
<text transform="translate(216.7 471.2) scale(0.8 1)" font-size="6.8" text-anchor="end" fill="#111" color="#111" font-weight="bold" dominant-baseline="central">100</text>
<line x1="218.6" y1="460.2" x2="221.1" y2="460.2" stroke="#111" stroke-width="1.1"/>
<text transform="translate(216.7 460.2) scale(0.8 1)" font-size="6.8" text-anchor="end" fill="#111" color="#111" font-weight="bold" dominant-baseline="central">120</text>
<line x1="218.6" y1="449.2" x2="221.1" y2="449.2" stroke="#111" stroke-width="1.1"/>
<text transform="translate(216.7 449.2) scale(0.8 1)" font-size="6.8" text-anchor="end" fill="#111" color="#111" font-weight="bold" dominant-baseline="central">140</text>
<line x1="218.6" y1="438.2" x2="221.1" y2="438.2" stroke="#111" stroke-width="1.1"/>
<text transform="translate(216.7 438.2) scale(0.8 1)" font-size="6.8" text-anchor="end" fill="#111" color="#111" font-weight="bold" dominant-baseline="central">160</text>
<line x1="218.6" y1="427.2" x2="221.1" y2="427.2" stroke="#111" stroke-width="1.1"/>
<text transform="translate(216.7 427.2) scale(0.8 1)" font-size="6.8" text-anchor="end" fill="#111" color="#111" font-weight="bold" dominant-baseline="central">180</text>
<line x1="218.6" y1="416.2" x2="221.1" y2="416.2" stroke="#111" stroke-width="1.1"/>
<text transform="translate(216.7 416.2) scale(0.8 1)" font-size="6.8" text-anchor="end" fill="#111" color="#111" font-weight="bold" dominant-baseline="central">200</text>
<line x1="218.6" y1="520.7" x2="220.1" y2="520.7" stroke="#111" stroke-width="1.1"/>
<line x1="218.6" y1="509.7" x2="220.1" y2="509.7" stroke="#111" stroke-width="1.1"/>
<line x1="218.6" y1="498.7" x2="220.1" y2="498.7" stroke="#111" stroke-width="1.1"/>
<line x1="218.6" y1="487.7" x2="220.1" y2="487.7" stroke="#111" stroke-width="1.1"/>
<line x1="218.6" y1="476.7" x2="220.1" y2="476.7" stroke="#111" stroke-width="1.1"/>
<line x1="218.6" y1="465.7" x2="220.1" y2="465.7" stroke="#111" stroke-width="1.1"/>
<line x1="218.6" y1="454.7" x2="220.1" y2="454.7" stroke="#111" stroke-width="1.1"/>
<line x1="218.6" y1="443.7" x2="220.1" y2="443.7" stroke="#111" stroke-width="1.1"/>
<line x1="218.6" y1="432.7" x2="220.1" y2="432.7" stroke="#111" stroke-width="1.1"/>
<line x1="218.6" y1="421.7" x2="220.1" y2="421.7" stroke="#111" stroke-width="1.1"/>
<text x="199.8" y="418.2" font-size="8.5" text-anchor="middle" fill="#111" color="#111" font-weight="bold" dominant-baseline="central">(h)</text>
<defs><radialGradient id="gb" cx="0.5" cy="0.5" r="0.55" fx="0.36" fy="0.32"><stop offset="0" stop-color="#e8e8ff"/><stop offset="0.25" stop-color="#5050ff"/><stop offset="0.65" stop-color="#1a1aec"/><stop offset="1" stop-color="#0c0cb0"/></radialGradient><radialGradient id="gp" cx="0.5" cy="0.5" r="0.55" fx="0.36" fy="0.32"><stop offset="0" stop-color="#ffe4f2"/><stop offset="0.25" stop-color="#f858a4"/><stop offset="0.65" stop-color="#ec137f"/><stop offset="1" stop-color="#c00864"/></radialGradient><marker id="ag" markerWidth="7" markerHeight="6" refX="5.5" refY="3" orient="auto" markerUnits="userSpaceOnUse"><path d="M0,0.6 L5.8,3 L0,5.4 z" fill="#2e9a2e"/></marker><marker id="ab" markerWidth="6" markerHeight="6" refX="4.6" refY="3" orient="auto" markerUnits="userSpaceOnUse"><path d="M0,1.1 L4.8,3 L0,4.9 z" fill="#2a2ae8"/></marker></defs>
<polyline points="42.3,72.6 42.88,72.59 43.63,72.57 44.52,72.54 45.52,72.52 46.61,72.49 47.73,72.46 48.87,72.43 50,72.4 51.14,72.37 52.34,72.33 53.58,72.29 54.86,72.26 56.15,72.22 57.45,72.18 58.73,72.14 60,72.1 61.25,72.06 62.5,72.02 63.75,71.99 65,71.95 66.25,71.91 67.5,71.87 68.75,71.84 70,71.8 71.26,71.76 72.55,71.73 73.84,71.69 75.12,71.66 76.4,71.62 77.64,71.58 78.85,71.54 80,71.5 81.11,71.46 82.19,71.41 83.23,71.36 84.25,71.31 85.23,71.26 86.19,71.21 87.11,71.16 88,71.1 88.86,71.04 89.69,70.99 90.48,70.93 91.25,70.88 91.98,70.81 92.69,70.75 93.36,70.68 94,70.6 94.6,70.52 95.16,70.43 95.69,70.34 96.19,70.24 96.66,70.14 97.12,70.03 97.56,69.92 98,69.8 98.43,69.68 98.83,69.55 99.22,69.42 99.59,69.29 99.96,69.15 100.31,69 100.66,68.85 101,68.7 101.34,68.54 101.66,68.38 101.98,68.21 102.29,68.04 102.6,67.87 102.9,67.69 103.2,67.5 103.5,67.3 103.8,67.1 104.1,66.89 104.39,66.69 104.68,66.47 104.97,66.24 105.25,66.01 105.53,65.76 105.8,65.5 106.06,65.24 106.32,64.99 106.56,64.75 106.81,64.48 107.05,64.19 107.29,63.85 107.54,63.46 107.8,63 108.07,62.46 108.34,61.86 108.61,61.2 108.89,60.5 109.17,59.77 109.45,59.02 109.72,58.26 110,57.5 110.28,56.73 110.55,55.93 110.83,55.11 111.1,54.28 111.38,53.44 111.65,52.61 111.92,51.8 112.2,51 112.47,50.23 112.74,49.46 113,48.71 113.27,47.97 113.54,47.23 113.81,46.49 114.1,45.75 114.4,45 114.71,44.24 115.03,43.47 115.35,42.7 115.68,41.93 116.02,41.17 116.37,40.42 116.73,39.7 117.1,39 117.48,38.33 117.87,37.69 118.27,37.06 118.68,36.45 119.1,35.85 119.53,35.26 119.96,34.68 120.4,34.1 120.86,33.53 121.33,32.99 121.81,32.46 122.31,31.93 122.8,31.4 123.28,30.86 123.75,30.29 124.2,29.7 124.63,29.06 125.05,28.37 125.46,27.66 125.86,26.93 126.26,26.22 126.64,25.53 127.02,24.88 127.4,24.3 127.78,23.77 128.16,23.27 128.53,22.8 128.9,22.36 129.26,21.96 129.59,21.6 129.91,21.28 130.2,21 130.46,20.76 130.68,20.55 130.89,20.38 131.07,20.24 131.25,20.16 131.43,20.12 131.61,20.13 131.8,20.2 132,20.3 132.21,20.42 132.42,20.58 132.63,20.8 132.84,21.09 133.04,21.48 133.22,21.97 133.4,22.6 133.56,23.37 133.71,24.25 133.85,25.25 133.98,26.34 134.11,27.51 134.24,28.75 134.37,30.06 134.5,31.4 134.64,32.85 134.78,34.43 134.91,36.1 135.05,37.83 135.19,39.57 135.32,41.27 135.46,42.89 135.6,44.4 135.74,45.84 135.87,47.26 136,48.66 136.14,49.99 136.27,51.25 136.41,52.4 136.55,53.43 136.7,54.3 136.85,54.99 136.99,55.5 137.14,55.88 137.29,56.16 137.45,56.37 137.62,56.56 137.8,56.75 138,57 138.21,57.27 138.43,57.52 138.65,57.75 138.89,57.98 139.15,58.19 139.41,58.39 139.7,58.6 140,58.8 140.3,59.01 140.59,59.21 140.88,59.41 141.19,59.6 141.54,59.79 141.95,59.97 142.43,60.14 143,60.3 143.66,60.45 144.4,60.6 145.2,60.74 146.06,60.87 146.98,61 147.95,61.11 148.95,61.21 150,61.3 151.12,61.37 152.34,61.43 153.62,61.47 154.94,61.5 156.26,61.53 157.57,61.55 158.83,61.57 160,61.6 161.08,61.63 162.1,61.67 163.07,61.7 164.01,61.73 164.96,61.76 165.92,61.78 166.93,61.79 168,61.8 169.21,61.79 170.55,61.77 171.97,61.75 173.4,61.71 174.76,61.68 176,61.65 177.03,61.62 177.8,61.6" fill="none" stroke="#2323e6" stroke-width="1.35" stroke-linejoin="round" stroke-linecap="round"/>
<polyline points="177.8,61.6 177.34,61.64 176.72,61.69 175.97,61.76 175.15,61.82 174.3,61.9 173.46,61.97 172.68,62.04 172,62.1 171.44,62.15 170.97,62.2 170.54,62.24 170.14,62.28 169.71,62.32 169.24,62.37 168.68,62.43 168,62.5 167.21,62.59 166.33,62.7 165.38,62.81 164.38,62.94 163.32,63.06 162.23,63.18 161.12,63.3 160,63.4 158.85,63.49 157.64,63.58 156.4,63.66 155.12,63.73 153.84,63.8 152.55,63.87 151.26,63.94 150,64 148.75,64.06 147.5,64.11 146.25,64.16 145,64.21 143.75,64.26 142.5,64.3 141.25,64.35 140,64.4 138.74,64.45 137.45,64.5 136.16,64.55 134.88,64.6 133.6,64.65 132.36,64.7 131.15,64.75 130,64.8 128.89,64.85 127.81,64.89 126.76,64.94 125.74,64.98 124.75,65.03 123.8,65.08 122.88,65.14 122,65.2 121.18,65.27 120.44,65.34 119.74,65.41 119.07,65.49 118.4,65.58 117.72,65.68 116.99,65.78 116.2,65.9 115.32,66.03 114.36,66.18 113.35,66.34 112.32,66.51 111.31,66.68 110.35,66.85 109.47,67.03 108.7,67.2 108.05,67.37 107.49,67.53 106.99,67.7 106.56,67.87 106.15,68.04 105.77,68.22 105.39,68.41 105,68.6 104.61,68.8 104.24,68.99 103.89,69.19 103.55,69.4 103.22,69.62 102.89,69.86 102.55,70.11 102.2,70.4 101.84,70.71 101.48,71.05 101.12,71.41 100.75,71.79 100.38,72.18 100.02,72.58 99.66,72.99 99.3,73.4 98.95,73.82 98.59,74.25 98.24,74.69 97.89,75.14 97.55,75.6 97.2,76.06 96.85,76.53 96.5,77 96.15,77.47 95.8,77.93 95.45,78.4 95.11,78.87 94.76,79.35 94.41,79.85 94.05,80.36 93.7,80.9 93.34,81.46 92.98,82.04 92.61,82.64 92.24,83.26 91.88,83.88 91.51,84.52 91.15,85.16 90.8,85.8 90.45,86.46 90.1,87.15 89.75,87.85 89.4,88.56 89.06,89.26 88.73,89.94 88.41,90.59 88.1,91.2 87.81,91.77 87.52,92.31 87.25,92.82 86.99,93.31 86.73,93.79 86.48,94.26 86.24,94.73 86,95.2 85.77,95.66 85.55,96.1 85.33,96.53 85.12,96.96 84.92,97.39 84.72,97.83 84.51,98.3 84.3,98.8 84.08,99.34 83.87,99.93 83.64,100.54 83.42,101.17 83.21,101.79 83,102.4 82.79,102.97 82.6,103.5 82.42,104.01 82.24,104.54 82.08,105.06 81.92,105.54 81.76,105.98 81.61,106.35 81.45,106.63 81.3,106.8 81.14,106.85 80.99,106.81 80.83,106.67 80.68,106.47 80.53,106.21 80.38,105.9 80.24,105.56 80.1,105.2 79.96,104.81 79.83,104.38 79.71,103.89 79.58,103.38 79.46,102.82 79.34,102.24 79.22,101.63 79.1,101 78.98,100.34 78.87,99.63 78.76,98.88 78.64,98.11 78.53,97.33 78.42,96.54 78.31,95.76 78.2,95 78.09,94.24 77.98,93.46 77.87,92.68 77.76,91.91 77.64,91.14 77.53,90.39 77.42,89.68 77.3,89 77.18,88.36 77.07,87.75 76.95,87.17 76.84,86.61 76.72,86.06 76.59,85.53 76.45,85.01 76.3,84.5 76.14,83.99 75.97,83.5 75.8,83.01 75.61,82.54 75.42,82.09 75.22,81.64 75.01,81.21 74.8,80.8 74.58,80.4 74.34,80.02 74.1,79.65 73.85,79.29 73.59,78.95 73.33,78.62 73.07,78.31 72.8,78 72.53,77.71 72.26,77.43 71.99,77.17 71.71,76.91 71.43,76.67 71.13,76.44 70.82,76.22 70.5,76 70.16,75.79 69.81,75.59 69.45,75.4 69.08,75.22 68.69,75.05 68.3,74.89 67.9,74.74 67.5,74.6 67.1,74.48 66.72,74.37 66.33,74.27 65.94,74.19 65.52,74.11 65.06,74.04 64.56,73.97 64,73.9 63.38,73.84 62.72,73.78 62.02,73.73 61.28,73.68 60.51,73.64 59.7,73.59 58.86,73.55 58,73.5 57.09,73.45 56.13,73.4 55.13,73.35 54.11,73.3 53.07,73.25 52.03,73.2 51,73.15 50,73.1 48.97,73.05 47.87,72.99 46.75,72.93 45.65,72.87 44.61,72.82 43.68,72.77 42.89,72.73 42.3,72.7" fill="none" stroke="#2323e6" stroke-width="1.35" stroke-linejoin="round" stroke-linecap="round"/>
<polyline points="218.9,14 218.91,14.46 218.93,15.05 218.95,15.77 218.97,16.56 219,17.41 219.03,18.29 219.06,19.16 219.1,20 219.14,20.83 219.18,21.7 219.22,22.6 219.27,23.5 219.32,24.4 219.37,25.3 219.43,26.17 219.5,27 219.57,27.79 219.64,28.56 219.71,29.3 219.79,30.03 219.87,30.76 219.97,31.49 220.08,32.23 220.2,33 220.34,33.8 220.49,34.64 220.65,35.49 220.82,36.34 221.01,37.19 221.2,38 221.4,38.78 221.6,39.5 221.81,40.17 222.04,40.81 222.28,41.41 222.52,41.98 222.77,42.52 223.01,43.04 223.26,43.53 223.5,44 223.73,44.43 223.96,44.82 224.18,45.17 224.41,45.5 224.64,45.82 224.88,46.13 225.13,46.46 225.4,46.8 225.69,47.16 226,47.53 226.32,47.9 226.65,48.27 226.99,48.64 227.33,49.01 227.67,49.36 228,49.7 228.33,50.03 228.65,50.34 228.98,50.65 229.31,50.94 229.64,51.24 229.98,51.53 230.33,51.81 230.7,52.1 231.08,52.39 231.48,52.67 231.89,52.96 232.31,53.24 232.73,53.51 233.15,53.78 233.58,54.05 234,54.3 234.42,54.54 234.84,54.78 235.26,55 235.68,55.22 236.11,55.44 236.53,55.65 236.96,55.87 237.4,56.1 237.83,56.33 238.27,56.56 238.7,56.8 239.14,57.03 239.58,57.27 240.04,57.51 240.51,57.75 241,58 241.51,58.25 242.04,58.52 242.58,58.78 243.14,59.05 243.7,59.32 244.27,59.58 244.83,59.85 245.4,60.1 245.96,60.35 246.5,60.58 247.04,60.82 247.59,61.05 248.16,61.28 248.74,61.52 249.35,61.75 250,62 250.71,62.26 251.47,62.54 252.27,62.83 253.09,63.11 253.91,63.39 254.69,63.65 255.43,63.89 256.1,64.1 256.68,64.26 257.18,64.39 257.63,64.49 258.06,64.57 258.48,64.65 258.93,64.74 259.43,64.85 260,65 260.64,65.18 261.32,65.39 262.03,65.62 262.78,65.86 263.56,66.11 264.35,66.35 265.17,66.58 266,66.8 266.82,67 267.61,67.19 268.41,67.37 269.24,67.54 270.13,67.72 271.1,67.9 272.18,68.1 273.4,68.3 274.78,68.52 276.31,68.75 277.95,68.99 279.67,69.23 281.45,69.48 283.23,69.72 284.99,69.96 286.7,70.2 288.37,70.43 290.04,70.66 291.72,70.89 293.39,71.12 295.07,71.34 296.75,71.57 298.42,71.79 300.1,72 301.82,72.21 303.59,72.41 305.38,72.61 307.17,72.81 308.91,73.01 310.56,73.2 312.11,73.4 313.5,73.6 314.73,73.8 315.83,74 316.81,74.19 317.71,74.39 318.56,74.59 319.37,74.79 320.17,74.99 321,75.2 321.82,75.41 322.61,75.61 323.36,75.81 324.09,76.01 324.82,76.23 325.54,76.46 326.26,76.72 327,77 327.76,77.31 328.53,77.65 329.3,78.01 330.07,78.38 330.83,78.77 331.58,79.17 332.3,79.58 333,80 333.68,80.43 334.35,80.88 335,81.34 335.64,81.81 336.25,82.29 336.83,82.77 337.39,83.24 337.9,83.7 338.37,84.15 338.81,84.59 339.21,85.03 339.58,85.47 339.93,85.91 340.26,86.36 340.59,86.82 340.9,87.3 341.2,87.79 341.49,88.29 341.76,88.8 342.01,89.33 342.25,89.85 342.48,90.39 342.7,90.94 342.9,91.5 343.09,92.06 343.26,92.63 343.41,93.2 343.55,93.79 343.69,94.39 343.82,95 343.96,95.64 344.1,96.3 344.25,96.99 344.4,97.72 344.55,98.46 344.7,99.22 344.85,100 345,100.77 345.15,101.54 345.3,102.3 345.45,103.05 345.59,103.8 345.73,104.55 345.88,105.3 346.02,106.05 346.17,106.8 346.33,107.55 346.5,108.3 346.68,109.07 346.88,109.85 347.08,110.65 347.29,111.44 347.5,112.22 347.71,112.96 347.91,113.66 348.1,114.3 348.29,114.9 348.48,115.47 348.67,116.02 348.85,116.52 349.02,116.98 349.17,117.39 349.3,117.73 349.4,118" fill="none" stroke="#2323e6" stroke-width="1.6" stroke-linejoin="round" stroke-linecap="round"/>
<polyline points="218.9,111 219.3,104 219.6,99.5 219.8,92 219.9,87.3 220.3,84 221.6,81.6 221.8,78 221.2,75.5 221.1,72 221.1,69.9 223.1,68.6 223.2,64.2 225.3,62.5 225.4,59.6 227.4,57.9 227.5,55.7 229,54.1 231,52.5 232.5,51.6 236,49.9" fill="none" stroke="#2323e6" stroke-width="2.3" stroke-linejoin="miter" stroke-linecap="round"/>
<polyline points="232.5,51.6 232.75,51.48 233.05,51.33 233.42,51.16 233.83,50.96 234.3,50.74 234.82,50.48 235.39,50.21 236,49.9 236.69,49.56 237.46,49.17 238.3,48.75 239.18,48.3 240.08,47.84 240.98,47.38 241.86,46.93 242.7,46.5 243.5,46.08 244.28,45.66 245.06,45.25 245.82,44.83 246.6,44.42 247.38,44.01 248.18,43.6 249,43.2 249.87,42.79 250.79,42.38 251.74,41.96 252.7,41.55 253.64,41.15 254.53,40.77 255.36,40.42 256.1,40.1 256.73,39.83 257.25,39.61 257.7,39.42 258.12,39.24 258.52,39.07 258.95,38.88 259.43,38.67 260,38.4 260.64,38.09 261.32,37.76 262.03,37.41 262.78,37.03 263.56,36.64 264.35,36.24 265.17,35.82 266,35.4 266.82,34.98 267.61,34.56 268.41,34.13 269.24,33.69 270.13,33.22 271.1,32.72 272.18,32.19 273.4,31.6 274.78,30.95 276.31,30.23 277.95,29.46 279.67,28.66 281.45,27.86 283.23,27.07 284.99,26.31 286.7,25.6 288.37,24.93 290.04,24.28 291.72,23.65 293.39,23.03 295.07,22.44 296.75,21.87 298.42,21.32 300.1,20.8 301.78,20.31 303.45,19.85 305.13,19.42 306.81,19.01 308.48,18.62 310.16,18.24 311.83,17.87 313.5,17.5 315.2,17.13 316.95,16.77 318.72,16.41 320.48,16.06 322.19,15.73 323.84,15.43 325.38,15.15 326.8,14.9 328.07,14.69 329.23,14.51 330.28,14.36 331.27,14.23 332.21,14.11 333.13,14 334.05,13.9 335,13.8 336.01,13.7 337.08,13.6 338.16,13.51 339.21,13.43 340.2,13.36 341.09,13.3 341.83,13.24 342.4,13.2" fill="none" stroke="#2323e6" stroke-width="2.6" stroke-linejoin="round" stroke-linecap="round"/>
<line x1="226.8" y1="19.7" x2="239.7" y2="19.7" stroke="#2323e6" stroke-width="1.3"/>
<text x="241.3" y="19.8" font-size="8.1" text-anchor="start" fill="#111" color="#111" font-weight="bold" dominant-baseline="central">Li<tspan font-size="6.2" dy="2">2</tspan><tspan dy="-2">TiO</tspan><tspan font-size="6.2" dy="2">3</tspan></text>
<polyline points="41.9,346.7 42.9,346.69 44.21,346.68 45.77,346.67 47.51,346.65 49.37,346.63 51.28,346.62 53.18,346.61 55,346.6 56.82,346.6 58.74,346.6 60.71,346.61 62.7,346.63 64.67,346.63 66.59,346.63 68.41,346.62 70.1,346.6 71.69,346.56 73.21,346.51 74.68,346.45 76.07,346.39 77.38,346.32 78.61,346.24 79.76,346.17 80.8,346.1 81.73,346.03 82.53,345.96 83.24,345.9 83.86,345.83 84.43,345.75 84.96,345.67 85.48,345.59 86,345.5 86.5,345.41 86.96,345.32 87.38,345.22 87.77,345.12 88.15,345.02 88.53,344.9 88.91,344.76 89.3,344.6 89.7,344.43 90.1,344.25 90.5,344.07 90.9,343.86 91.3,343.64 91.7,343.39 92.1,343.11 92.5,342.8 92.91,342.45 93.33,342.05 93.76,341.63 94.18,341.18 94.6,340.71 95.01,340.24 95.42,339.76 95.8,339.3 96.17,338.85 96.52,338.39 96.86,337.94 97.19,337.48 97.52,337.01 97.85,336.53 98.17,336.02 98.5,335.5 98.83,334.96 99.16,334.4 99.49,333.83 99.82,333.25 100.14,332.65 100.47,332.02 100.79,331.37 101.1,330.7 101.41,329.99 101.71,329.24 102.01,328.47 102.31,327.67 102.6,326.87 102.9,326.07 103.2,325.27 103.5,324.5 103.81,323.74 104.14,323 104.47,322.26 104.8,321.52 105.12,320.78 105.44,320.03 105.73,319.27 106,318.5 106.24,317.71 106.46,316.92 106.65,316.12 106.84,315.31 107.02,314.5 107.2,313.67 107.39,312.84 107.6,312 107.82,311.15 108.06,310.27 108.3,309.39 108.54,308.5 108.79,307.61 109.03,306.73 109.27,305.85 109.5,305 109.72,304.15 109.94,303.3 110.16,302.46 110.37,301.62 110.58,300.81 110.79,300.01 110.99,299.24 111.2,298.5 111.41,297.79 111.61,297.09 111.82,296.41 112.02,295.75 112.22,295.13 112.42,294.54 112.61,294 112.8,293.5 112.98,293.04 113.16,292.61 113.34,292.2 113.51,291.84 113.68,291.53 113.85,291.29 114.03,291.1 114.2,291 114.37,290.97 114.55,291.01 114.72,291.12 114.89,291.28 115.07,291.51 115.24,291.79 115.42,292.12 115.6,292.5 115.78,292.94 115.97,293.45 116.16,294.01 116.35,294.62 116.54,295.29 116.73,295.99 116.92,296.73 117.1,297.5 117.28,298.32 117.46,299.2 117.64,300.13 117.82,301.09 117.99,302.08 118.17,303.07 118.34,304.05 118.5,305 118.66,305.94 118.8,306.89 118.95,307.83 119.09,308.78 119.23,309.72 119.38,310.66 119.53,311.59 119.7,312.5 119.88,313.41 120.06,314.33 120.25,315.24 120.45,316.14 120.65,317.02 120.86,317.88 121.08,318.71 121.3,319.5 121.53,320.26 121.76,320.99 121.99,321.69 122.23,322.37 122.48,323.02 122.74,323.64 123.01,324.24 123.3,324.8 123.6,325.33 123.91,325.83 124.23,326.3 124.57,326.74 124.91,327.16 125.27,327.56 125.63,327.94 126,328.3 126.37,328.64 126.73,328.94 127.09,329.22 127.46,329.49 127.86,329.74 128.29,329.99 128.77,330.24 129.3,330.5 129.89,330.77 130.54,331.05 131.24,331.33 131.96,331.6 132.71,331.87 133.48,332.13 134.24,332.37 135,332.6 135.74,332.81 136.48,333 137.21,333.18 137.96,333.35 138.74,333.51 139.54,333.67 140.39,333.83 141.3,334 142.28,334.17 143.32,334.35 144.41,334.52 145.53,334.69 146.67,334.86 147.8,335.02 148.92,335.17 150,335.3 151.02,335.42 152,335.52 152.95,335.62 153.91,335.7 154.88,335.78 155.91,335.85 157.01,335.93 158.2,336 159.51,336.07 160.92,336.15 162.4,336.22 163.92,336.29 165.48,336.35 167.02,336.41 168.54,336.46 170,336.5 171.49,336.53 173.06,336.56 174.67,336.57 176.24,336.58 177.72,336.59 179.04,336.59 180.16,336.6 181,336.6" fill="none" stroke="#2323e6" stroke-width="1.7" stroke-linejoin="round" stroke-linecap="round"/>
<polyline points="181,336.6 181.02,336.86 181.05,337.2 181.08,337.6 181.11,338.05 181.15,338.53 181.17,339.03 181.19,339.52 181.2,340 181.2,340.48 181.19,340.99 181.18,341.51 181.16,342.04 181.14,342.56 181.1,343.07 181.06,343.55 181,344 180.94,344.41 180.89,344.79 180.83,345.15 180.76,345.49 180.67,345.82 180.55,346.14 180.4,346.47 180.2,346.8 179.96,347.14 179.7,347.49 179.41,347.83 179.09,348.17 178.73,348.51 178.33,348.83 177.89,349.12 177.4,349.4 176.86,349.65 176.26,349.88 175.62,350.09 174.94,350.29 174.23,350.47 173.5,350.65 172.75,350.83 172,351 171.25,351.17 170.5,351.33 169.74,351.48 168.95,351.62 168.13,351.77 167.28,351.91 166.37,352.05 165.4,352.2 164.36,352.35 163.26,352.5 162.1,352.65 160.91,352.8 159.68,352.95 158.45,353.1 157.22,353.25 156,353.4 154.79,353.55 153.59,353.69 152.38,353.83 151.16,353.98 149.92,354.12 148.67,354.27 147.4,354.43 146.1,354.6 144.78,354.78 143.45,354.96 142.1,355.15 140.74,355.35 139.35,355.55 137.93,355.76 136.48,355.98 135,356.2 133.43,356.43 131.74,356.69 130,356.95 128.24,357.21 126.52,357.48 124.89,357.73 123.4,357.98 122.1,358.2 121.01,358.4 120.08,358.58 119.28,358.75 118.57,358.91 117.93,359.06 117.31,359.23 116.68,359.41 116,359.6 115.29,359.81 114.58,360.03 113.88,360.25 113.2,360.48 112.54,360.72 111.89,360.97 111.28,361.23 110.7,361.5 110.15,361.78 109.64,362.07 109.15,362.37 108.69,362.68 108.24,363 107.82,363.33 107.4,363.66 107,364 106.61,364.35 106.25,364.71 105.9,365.08 105.56,365.46 105.24,365.84 104.92,366.22 104.61,366.61 104.3,367 103.99,367.4 103.69,367.81 103.39,368.24 103.09,368.66 102.81,369.08 102.53,369.48 102.26,369.86 102,370.2 101.75,370.52 101.5,370.82 101.26,371.11 101.03,371.38 100.81,371.62 100.6,371.84 100.39,372.03 100.2,372.2 100.02,372.34 99.86,372.45 99.71,372.54 99.58,372.6 99.44,372.64 99.3,372.65 99.16,372.64 99,372.6 98.84,372.54 98.67,372.47 98.51,372.37 98.34,372.25 98.16,372.1 97.98,371.91 97.8,371.68 97.6,371.4 97.4,371.08 97.18,370.71 96.96,370.3 96.74,369.86 96.51,369.38 96.27,368.88 96.04,368.35 95.8,367.8 95.56,367.21 95.32,366.56 95.08,365.88 94.83,365.18 94.58,364.47 94.33,363.77 94.07,363.11 93.8,362.5 93.53,361.93 93.26,361.39 92.99,360.86 92.71,360.36 92.43,359.87 92.13,359.4 91.82,358.94 91.5,358.5 91.16,358.07 90.81,357.66 90.44,357.26 90.07,356.88 89.69,356.52 89.29,356.16 88.9,355.83 88.5,355.5 88.12,355.19 87.76,354.91 87.42,354.64 87.06,354.39 86.66,354.14 86.22,353.9 85.7,353.65 85.1,353.4 84.4,353.14 83.6,352.88 82.74,352.62 81.83,352.36 80.88,352.1 79.92,351.86 78.95,351.62 78,351.4 77.05,351.2 76.09,351.01 75.1,350.83 74.11,350.66 73.11,350.5 72.11,350.34 71.1,350.17 70.1,350 69.09,349.82 68.06,349.64 67.02,349.45 65.99,349.27 64.96,349.09 63.95,348.91 62.96,348.75 62,348.6 61.08,348.46 60.2,348.33 59.33,348.21 58.49,348.1 57.65,347.99 56.81,347.89 55.96,347.79 55.1,347.7 54.22,347.61 53.32,347.52 52.41,347.44 51.5,347.37 50.6,347.3 49.71,347.23 48.84,347.16 48,347.1 47.15,347.04 46.26,346.98 45.37,346.92 44.51,346.86 43.7,346.81 42.97,346.77 42.36,346.73 41.9,346.7" fill="none" stroke="#2323e6" stroke-width="1.7" stroke-linejoin="round" stroke-linecap="round"/>
<line x1="49" y1="288" x2="60.3" y2="288" stroke="#cfcff8" stroke-width="1"/>
<circle cx="54.6" cy="288" r="1" fill="#2323e6"/>
<text x="62.8" y="288.3" font-size="8" text-anchor="start" fill="#111" color="#111" font-weight="bold" dominant-baseline="central">LiCoO<tspan font-size="5.5" dy="1.8">2</tspan></text>
<text x="101.6" y="285" font-size="7" text-anchor="start" fill="#111" color="#111" font-weight="bold" dominant-baseline="central">V<tspan font-size="5" dy="2.5">O</tspan><tspan dy="-2.5"> = 0.61</tspan></text>
<text x="88.3" y="377.4" font-size="7" text-anchor="start" fill="#111" color="#111" font-weight="bold" dominant-baseline="central">V<tspan font-size="5" dy="2.5">R</tspan><tspan dy="-2.5"> = 0.52</tspan></text>
<text transform="translate(18.6 328.2) rotate(-90)" font-size="8.4" text-anchor="middle" fill="#111" color="#111" font-weight="bold" dominant-baseline="central">Current (mA)</text>
<text x="108.3" y="406.3" font-size="9.5" text-anchor="middle" fill="#111" color="#111" font-weight="bold" dominant-baseline="central">Potential (V vs. Ag/AgCl)</text>
<polyline points="224.1,287.5 224.4,287.77 224.78,288.12 225.24,288.53 225.76,289 226.31,289.5 226.88,290.01 227.45,290.51 228,291 228.55,291.47 229.1,291.96 229.68,292.45 230.26,292.95 230.86,293.46 231.46,293.97 232.08,294.48 232.7,295 233.33,295.52 233.98,296.06 234.64,296.59 235.31,297.14 235.98,297.68 236.65,298.23 237.33,298.77 238,299.3 238.67,299.83 239.35,300.36 240.02,300.9 240.7,301.43 241.38,301.95 242.05,302.47 242.73,302.99 243.4,303.5 244.07,304 244.73,304.5 245.39,305 246.05,305.49 246.71,305.97 247.37,306.45 248.03,306.93 248.7,307.4 249.37,307.86 250.04,308.32 250.72,308.76 251.39,309.21 252.07,309.65 252.75,310.09 253.42,310.54 254.1,311 254.78,311.47 255.45,311.94 256.13,312.41 256.81,312.89 257.48,313.37 258.16,313.85 258.83,314.33 259.5,314.8 260.17,315.27 260.83,315.75 261.5,316.23 262.16,316.71 262.82,317.18 263.48,317.63 264.14,318.08 264.8,318.5 265.45,318.9 266.1,319.29 266.74,319.66 267.39,320.02 268.03,320.38 268.68,320.72 269.34,321.06 270,321.4 270.67,321.73 271.35,322.06 272.04,322.38 272.73,322.69 273.42,323 274.12,323.31 274.81,323.6 275.5,323.9 276.19,324.19 276.88,324.48 277.58,324.76 278.27,325.03 278.96,325.3 279.65,325.57 280.33,325.84 281,326.1 281.65,326.36 282.26,326.61 282.86,326.85 283.46,327.09 284.07,327.34 284.72,327.58 285.43,327.84 286.2,328.1 287.05,328.38 287.96,328.68 288.93,328.98 289.92,329.29 290.95,329.59 291.97,329.88 293,330.15 294,330.4 295.02,330.62 296.08,330.83 297.16,331.03 298.24,331.21 299.28,331.37 300.28,331.53 301.19,331.67 302,331.8 302.65,331.91 303.14,331.99 303.53,332.06 303.88,332.11 304.24,332.17 304.67,332.23 305.24,332.3 306,332.4 306.96,332.52 308.08,332.65 309.31,332.8 310.62,332.95 311.99,333.11 313.36,333.27 314.71,333.44 316,333.6 317.25,333.76 318.5,333.93 319.75,334.1 321,334.27 322.25,334.45 323.5,334.63 324.75,334.81 326,335 327.28,335.19 328.62,335.4 329.97,335.61 331.31,335.82 332.62,336.03 333.85,336.23 334.99,336.42 336,336.6 336.87,336.76 337.64,336.9 338.31,337.04 338.91,337.16 339.45,337.29 339.97,337.42 340.48,337.55 341,337.7 341.51,337.86 341.99,338.02 342.44,338.19 342.88,338.36 343.29,338.54 343.7,338.72 344.1,338.91 344.5,339.1 344.91,339.3 345.31,339.5 345.71,339.71 346.09,339.92 346.47,340.13 346.83,340.35 347.18,340.58 347.5,340.8 347.8,341.02 348.08,341.24 348.34,341.46 348.58,341.68 348.82,341.91 349.04,342.16 349.27,342.42 349.5,342.7 349.73,343 349.95,343.31 350.17,343.63 350.39,343.97 350.6,344.32 350.8,344.69 351,345.09 351.2,345.5 351.39,345.93 351.57,346.36 351.75,346.8 351.92,347.27 352.09,347.76 352.26,348.3 352.43,348.87 352.6,349.5 352.78,350.19 352.95,350.94 353.13,351.73 353.31,352.56 353.49,353.42 353.66,354.28 353.83,355.15 354,356 354.16,356.85 354.32,357.71 354.47,358.59 354.62,359.47 354.77,360.35 354.92,361.24 355.06,362.12 355.2,363 355.33,363.88 355.46,364.75 355.59,365.62 355.71,366.5 355.83,367.38 355.95,368.25 356.08,369.12 356.2,370 356.33,370.88 356.45,371.77 356.58,372.67 356.71,373.56 356.83,374.45 356.96,375.32 357.08,376.17 357.2,377 357.32,377.8 357.44,378.59 357.55,379.36 357.67,380.11 357.78,380.85 357.89,381.58 358,382.3 358.1,383 358.2,383.72 358.31,384.48 358.41,385.24 358.51,385.98 358.6,386.67 358.68,387.28 358.75,387.8 358.8,388.2" fill="none" stroke="#2323e6" stroke-width="1.7" stroke-linejoin="round" stroke-linecap="round"/>
<polyline points="223.9,374 223.92,373.07 223.94,371.84 223.96,370.38 223.99,368.75 224.02,367.03 224.05,365.28 224.07,363.58 224.1,362 224.12,360.45 224.14,358.84 224.16,357.19 224.18,355.56 224.2,353.99 224.23,352.51 224.26,351.17 224.3,350 224.35,349.03 224.39,348.23 224.45,347.57 224.51,347 224.57,346.49 224.64,346.02 224.72,345.53 224.8,345 224.89,344.44 224.98,343.89 225.07,343.36 225.17,342.84 225.28,342.35 225.4,341.87 225.54,341.42 225.7,341 225.88,340.61 226.07,340.25 226.28,339.92 226.5,339.61 226.73,339.31 226.98,339.03 227.24,338.76 227.5,338.5 227.78,338.25 228.07,338.01 228.38,337.78 228.69,337.57 229.02,337.37 229.34,337.17 229.67,336.98 230,336.8 230.31,336.63 230.6,336.46 230.88,336.31 231.18,336.17 231.49,336.03 231.84,335.89 232.24,335.75 232.7,335.6 233.24,335.45 233.84,335.29 234.49,335.14 235.18,334.98 235.89,334.83 236.61,334.68 237.31,334.54 238,334.4 238.67,334.27 239.34,334.15 240.02,334.03 240.69,333.92 241.37,333.81 242.05,333.7 242.72,333.6 243.4,333.5 244.08,333.4 244.75,333.31 245.43,333.23 246.11,333.14 246.78,333.06 247.46,332.98 248.13,332.89 248.8,332.8 249.47,332.71 250.13,332.61 250.79,332.52 251.45,332.43 252.11,332.33 252.77,332.22 253.43,332.12 254.1,332 254.77,331.88 255.45,331.75 256.12,331.62 256.8,331.48 257.48,331.34 258.15,331.2 258.83,331.05 259.5,330.9 260.17,330.75 260.83,330.6 261.49,330.44 262.15,330.29 262.81,330.13 263.47,329.96 264.13,329.78 264.8,329.6 265.47,329.41 266.15,329.21 266.82,329 267.5,328.79 268.18,328.57 268.85,328.35 269.53,328.12 270.2,327.9 270.87,327.67 271.53,327.43 272.19,327.19 272.86,326.95 273.52,326.71 274.18,326.47 274.84,326.23 275.5,326 276.16,325.78 276.82,325.56 277.48,325.35 278.14,325.14 278.81,324.93 279.47,324.72 280.13,324.51 280.8,324.3 281.45,324.09 282.09,323.9 282.71,323.7 283.34,323.51 283.99,323.3 284.68,323.09 285.41,322.86 286.2,322.6 287.06,322.32 287.98,322.03 288.94,321.72 289.94,321.39 290.95,321.06 291.98,320.71 293,320.36 294,320 295.02,319.62 296.08,319.21 297.16,318.78 298.24,318.35 299.28,317.92 300.28,317.52 301.19,317.14 302,316.8 302.65,316.54 303.14,316.35 303.53,316.21 303.88,316.08 304.24,315.92 304.67,315.71 305.24,315.42 306,315 306.96,314.46 308.08,313.82 309.31,313.1 310.62,312.32 311.99,311.51 313.36,310.67 314.71,309.83 316,309 317.25,308.17 318.5,307.32 319.75,306.45 321,305.56 322.25,304.67 323.5,303.77 324.75,302.88 326,302 327.25,301.12 328.5,300.23 329.75,299.33 331,298.44 332.25,297.55 333.5,296.68 334.75,295.83 336,295 337.28,294.17 338.6,293.34 339.94,292.5 341.28,291.69 342.57,290.91 343.81,290.2 344.96,289.55 346,289 346.95,288.54 347.84,288.17 348.67,287.87 349.43,287.62 350.1,287.43 350.7,287.27 351.2,287.13 351.6,287" fill="none" stroke="#2323e6" stroke-width="1.7" stroke-linejoin="round" stroke-linecap="round"/>
<line x1="244.5" y1="289" x2="257.3" y2="289" stroke="#2a2ae8" stroke-width="0.9"/>
<circle cx="251" cy="289" r="1" fill="#2323e6"/>
<text x="258.8" y="289.3" font-size="8" text-anchor="start" fill="#111" color="#111" font-weight="bold" dominant-baseline="central">LiCoO<tspan font-size="5.5" dy="1.8">2</tspan></text>
<polyline points="67.4,242.7 70.1,242.6 71.3,242.4 72.2,242.3 74.3,240.7 76.3,238.6 78.4,236.1 80.4,233.3 83.3,228.8 86.9,224 90.9,219.6 96.5,214.8 102.9,208.4 109.8,201.5 117.2,194.8" fill="none" stroke="#ec1c84" stroke-width="1" stroke-linejoin="round" stroke-linecap="round"/>
<polyline points="60.5,244.6 61.6,242.6 62.4,241.3 63.2,240.2 64.4,238.2 65.7,236.1 66.9,234.1 68.1,232 69.3,230 71,227.1 72.6,223.9 74.7,219.3 76.7,213.6 79.2,207.3 81.2,199.9 84.1,190.3 85.7,177.9 87.7,164.6 89.6,151.1" fill="none" stroke="#2a2ae8" stroke-width="1" stroke-linejoin="round" stroke-linecap="round"/>
<circle cx="41.7" cy="254.2" r="2.15" fill="url(#gb)"/>
<circle cx="42.41" cy="253.11" r="2.15" fill="url(#gb)"/>
<circle cx="43.22" cy="252.11" r="2.15" fill="url(#gb)"/>
<circle cx="44.17" cy="251.22" r="2.15" fill="url(#gb)"/>
<circle cx="45.2" cy="250.43" r="2.15" fill="url(#gb)"/>
<circle cx="46.26" cy="249.67" r="2.15" fill="url(#gb)"/>
<circle cx="47.38" cy="249.02" r="2.15" fill="url(#gb)"/>
<circle cx="48.52" cy="248.4" r="2.15" fill="url(#gb)"/>
<circle cx="49.76" cy="248.03" r="2.15" fill="url(#gb)"/>
<circle cx="51.02" cy="247.72" r="2.15" fill="url(#gb)"/>
<circle cx="52.3" cy="247.5" r="2.15" fill="url(#gb)"/>
<circle cx="53.59" cy="247.35" r="2.15" fill="url(#gb)"/>
<circle cx="54.88" cy="247.19" r="2.15" fill="url(#gb)"/>
<circle cx="56.18" cy="247.04" r="2.15" fill="url(#gb)"/>
<circle cx="57.45" cy="246.79" r="2.15" fill="url(#gb)"/>
<circle cx="58.67" cy="246.37" r="2.15" fill="url(#gb)"/>
<circle cx="59.72" cy="245.64" r="2.15" fill="url(#gb)"/>
<circle cx="60.5" cy="244.6" r="2.15" fill="url(#gb)"/>
<circle cx="61.13" cy="243.46" r="2.15" fill="url(#gb)"/>
<circle cx="61.77" cy="242.33" r="2.15" fill="url(#gb)"/>
<circle cx="63.2" cy="240.2" r="2.15" fill="url(#gb)"/>
<circle cx="64.4" cy="238.2" r="2.15" fill="url(#gb)"/>
<circle cx="65.7" cy="236.1" r="2.15" fill="url(#gb)"/>
<circle cx="66.9" cy="234.1" r="2.15" fill="url(#gb)"/>
<circle cx="68.1" cy="232" r="2.15" fill="url(#gb)"/>
<circle cx="69.3" cy="230" r="2.15" fill="url(#gb)"/>
<circle cx="71" cy="227.1" r="2.15" fill="url(#gb)"/>
<circle cx="72.6" cy="223.9" r="2.15" fill="url(#gb)"/>
<circle cx="74.7" cy="219.3" r="2.15" fill="url(#gb)"/>
<circle cx="76.7" cy="213.6" r="2.15" fill="url(#gb)"/>
<circle cx="79.2" cy="207.3" r="2.15" fill="url(#gb)"/>
<circle cx="81.2" cy="199.9" r="2.15" fill="url(#gb)"/>
<circle cx="84.1" cy="190.3" r="2.15" fill="url(#gb)"/>
<circle cx="85.7" cy="177.9" r="2.15" fill="url(#gb)"/>
<circle cx="87.7" cy="164.6" r="2.15" fill="url(#gb)"/>
<circle cx="89.6" cy="151.1" r="2.15" fill="url(#gb)"/>
<circle cx="39.1" cy="253.2" r="2.15" fill="url(#gp)"/>
<circle cx="39.49" cy="251.96" r="2.15" fill="url(#gp)"/>
<circle cx="39.91" cy="250.73" r="2.15" fill="url(#gp)"/>
<circle cx="40.43" cy="249.54" r="2.15" fill="url(#gp)"/>
<circle cx="41.14" cy="248.49" r="2.15" fill="url(#gp)"/>
<circle cx="42.09" cy="247.6" r="2.15" fill="url(#gp)"/>
<circle cx="43.18" cy="246.9" r="2.15" fill="url(#gp)"/>
<circle cx="44.31" cy="246.25" r="2.15" fill="url(#gp)"/>
<circle cx="45.46" cy="245.65" r="2.15" fill="url(#gp)"/>
<circle cx="46.61" cy="245.05" r="2.15" fill="url(#gp)"/>
<circle cx="47.8" cy="244.51" r="2.15" fill="url(#gp)"/>
<circle cx="48.99" cy="244.01" r="2.15" fill="url(#gp)"/>
<circle cx="50.24" cy="243.63" r="2.15" fill="url(#gp)"/>
<circle cx="51.48" cy="243.26" r="2.15" fill="url(#gp)"/>
<circle cx="52.75" cy="242.98" r="2.15" fill="url(#gp)"/>
<circle cx="54.02" cy="242.7" r="2.15" fill="url(#gp)"/>
<circle cx="55.31" cy="242.55" r="2.15" fill="url(#gp)"/>
<circle cx="56.61" cy="242.41" r="2.15" fill="url(#gp)"/>
<circle cx="57.9" cy="242.31" r="2.15" fill="url(#gp)"/>
<circle cx="59.2" cy="242.21" r="2.15" fill="url(#gp)"/>
<circle cx="60.5" cy="242.24" r="2.15" fill="url(#gp)"/>
<circle cx="61.8" cy="242.29" r="2.15" fill="url(#gp)"/>
<circle cx="63.09" cy="242.38" r="2.15" fill="url(#gp)"/>
<circle cx="64.39" cy="242.48" r="2.15" fill="url(#gp)"/>
<circle cx="65.69" cy="242.57" r="2.15" fill="url(#gp)"/>
<circle cx="66.98" cy="242.67" r="2.15" fill="url(#gp)"/>
<circle cx="68.28" cy="242.67" r="2.15" fill="url(#gp)"/>
<circle cx="69.58" cy="242.62" r="2.15" fill="url(#gp)"/>
<circle cx="70.87" cy="242.47" r="2.15" fill="url(#gp)"/>
<circle cx="72.2" cy="242.3" r="2.15" fill="url(#gp)"/>
<circle cx="74.3" cy="240.7" r="2.15" fill="url(#gp)"/>
<circle cx="76.3" cy="238.6" r="2.15" fill="url(#gp)"/>
<circle cx="78.4" cy="236.1" r="2.15" fill="url(#gp)"/>
<circle cx="80.4" cy="233.3" r="2.15" fill="url(#gp)"/>
<circle cx="83.3" cy="228.8" r="2.15" fill="url(#gp)"/>
<circle cx="86.9" cy="224" r="2.15" fill="url(#gp)"/>
<circle cx="90.9" cy="219.6" r="2.15" fill="url(#gp)"/>
<circle cx="96.5" cy="214.8" r="2.15" fill="url(#gp)"/>
<circle cx="102.9" cy="208.4" r="2.15" fill="url(#gp)"/>
<circle cx="109.8" cy="201.5" r="2.15" fill="url(#gp)"/>
<circle cx="117.2" cy="194.8" r="2.15" fill="url(#gp)"/>
<text x="137.6" y="154.3" font-size="7.4" text-anchor="middle" fill="#111" color="#111" font-weight="bold" dominant-baseline="central">Li<tspan font-size="5.4" dy="1.8">2</tspan><tspan dy="-1.8">TiO</tspan><tspan font-size="5.4" dy="1.8">3</tspan></text>
<polyline points="123.1,179.5 127.8,179.5 129.5,176 131.4,183.5 133.4,176 135.4,183.5 137,176.5 138.3,179.5 141.7,179.5" fill="none" stroke="#151515" stroke-width="1.6" stroke-linejoin="round" stroke-linecap="round"/>
<polyline points="141.7,172.5 141.7,185.7" fill="none" stroke="#151515" stroke-width="1.6" stroke-linejoin="round" stroke-linecap="round"/>
<polyline points="141.7,172.5 153.9,172.5" fill="none" stroke="#151515" stroke-width="1.6" stroke-linejoin="round" stroke-linecap="round"/>
<polyline points="164.9,172.5 175.3,172.5 175.3,185.7" fill="none" stroke="#151515" stroke-width="1.6" stroke-linejoin="round" stroke-linecap="round"/>
<rect x="153.9" y="167" width="11" height="10.9" fill="#fff" stroke="#333" stroke-width="1.4"/>
<text x="159.4" y="172.2" font-size="4.8" text-anchor="middle" fill="#222" color="#222" font-weight="bold" dominant-baseline="central">CPE</text>
<polyline points="141.7,185.7 148.7,185.7 150.2,181.7 152.2,189.6 154.4,181.7 156.4,189.6 158.2,182.5 159.1,185.7 161.7,185.7" fill="none" stroke="#151515" stroke-width="1.6" stroke-linejoin="round" stroke-linecap="round"/>
<polyline points="161.7,182.6 163.9,189.4 166,183.5 168.2,189.4 170.4,182.6" fill="none" stroke="#151515" stroke-width="1.8" stroke-linejoin="round" stroke-linecap="round"/>
<polyline points="170.4,185.7 175.3,185.7" fill="none" stroke="#151515" stroke-width="1.6" stroke-linejoin="round" stroke-linecap="round"/>
<polyline points="175.3,179.5 180,179.5" fill="none" stroke="#151515" stroke-width="1.6" stroke-linejoin="round" stroke-linecap="round"/>
<text x="133" y="168.7" font-size="5.5" text-anchor="middle" fill="#111" color="#111" font-weight="bold" dominant-baseline="central">R<tspan font-size="3.8" dy="0.8">s</tspan></text>
<text x="153" y="195.5" font-size="5.5" text-anchor="middle" fill="#111" color="#111" font-weight="bold" dominant-baseline="central">R<tspan font-size="3.8" dy="0.8">ct</tspan></text>
<text x="165.6" y="194.8" font-size="5.5" text-anchor="middle" fill="#111" color="#111" font-weight="bold" dominant-baseline="central">Z<tspan font-size="3.8" dy="0.8">w</tspan></text>
<line x1="110.2" y1="233.1" x2="122.6" y2="233.1" stroke="#2a2ae8" stroke-width="1"/>
<circle cx="116.4" cy="233.1" r="1.9" fill="url(#gb)"/>
<text x="125.8" y="233.3" font-size="7.7" text-anchor="start" fill="#111" color="#111" font-weight="bold" dominant-baseline="central">1<tspan font-size="5" dy="-2.6">st</tspan><tspan dy="2.6"> Cycle</tspan></text>
<line x1="110.2" y1="245.3" x2="122.6" y2="245.3" stroke="#ec1c84" stroke-width="1"/>
<circle cx="116.4" cy="245.3" r="1.9" fill="url(#gp)"/>
<text x="125.8" y="245.5" font-size="7.7" text-anchor="start" fill="#111" color="#111" font-weight="bold" dominant-baseline="central">After 50<tspan font-size="5" dy="-2.6">th</tspan><tspan dy="2.6"> Cycle</tspan></text>
<polyline points="219.59,185.71 222.07,186.03 224.56,186.36 227.04,187.01 229.53,187.65 232.02,188.3 234.5,188.95 236.99,189.6 239.47,190.25 241.96,189.98 244.45,189.98 246.93,189.98 249.42,189.98 251.9,189.98 254.39,189.98 256.88,189.98 259.36,189.98 261.85,189.98 264.33,189.98 266.82,189.98 269.31,189.98 271.79,189.98 274.28,189.98 276.76,189.98 279.25,189.98 281.74,189.98 284.22,189.98 286.71,190.3 289.19,190.3 291.68,190.3 294.17,190.3 296.65,190.3 299.14,190.3 301.62,190.3 304.11,190.3 306.6,190.3 309.08,190.3 311.57,190.3 314.05,190.3 316.54,190.3 319.03,190.52 321.51,190.52 324,190.52 326.48,190.52 328.97,190.52 331.46,190.52 333.94,190.52 336.43,190.52 338.91,190.52 341.4,190.52" fill="none" stroke="#2e9a2e" stroke-width="1.2" stroke-linejoin="round" stroke-linecap="round"/>
<circle cx="219.59" cy="185.71" r="0.9" fill="#2e9a2e"/>
<circle cx="222.07" cy="186.03" r="0.9" fill="#2e9a2e"/>
<circle cx="224.56" cy="186.36" r="0.9" fill="#2e9a2e"/>
<circle cx="227.04" cy="187.01" r="0.9" fill="#2e9a2e"/>
<circle cx="229.53" cy="187.65" r="0.9" fill="#2e9a2e"/>
<circle cx="232.02" cy="188.3" r="0.9" fill="#2e9a2e"/>
<circle cx="234.5" cy="188.95" r="0.9" fill="#2e9a2e"/>
<circle cx="236.99" cy="189.6" r="0.9" fill="#2e9a2e"/>
<circle cx="239.47" cy="190.25" r="0.9" fill="#2e9a2e"/>
<circle cx="241.96" cy="189.98" r="0.9" fill="#2e9a2e"/>
<circle cx="244.45" cy="189.98" r="0.9" fill="#2e9a2e"/>
<circle cx="246.93" cy="189.98" r="0.9" fill="#2e9a2e"/>
<circle cx="249.42" cy="189.98" r="0.9" fill="#2e9a2e"/>
<circle cx="251.9" cy="189.98" r="0.9" fill="#2e9a2e"/>
<circle cx="254.39" cy="189.98" r="0.9" fill="#2e9a2e"/>
<circle cx="256.88" cy="189.98" r="0.9" fill="#2e9a2e"/>
<circle cx="259.36" cy="189.98" r="0.9" fill="#2e9a2e"/>
<circle cx="261.85" cy="189.98" r="0.9" fill="#2e9a2e"/>
<circle cx="264.33" cy="189.98" r="0.9" fill="#2e9a2e"/>
<circle cx="266.82" cy="189.98" r="0.9" fill="#2e9a2e"/>
<circle cx="269.31" cy="189.98" r="0.9" fill="#2e9a2e"/>
<circle cx="271.79" cy="189.98" r="0.9" fill="#2e9a2e"/>
<circle cx="274.28" cy="189.98" r="0.9" fill="#2e9a2e"/>
<circle cx="276.76" cy="189.98" r="0.9" fill="#2e9a2e"/>
<circle cx="279.25" cy="189.98" r="0.9" fill="#2e9a2e"/>
<circle cx="281.74" cy="189.98" r="0.9" fill="#2e9a2e"/>
<circle cx="284.22" cy="189.98" r="0.9" fill="#2e9a2e"/>
<circle cx="286.71" cy="190.3" r="0.9" fill="#2e9a2e"/>
<circle cx="289.19" cy="190.3" r="0.9" fill="#2e9a2e"/>
<circle cx="291.68" cy="190.3" r="0.9" fill="#2e9a2e"/>
<circle cx="294.17" cy="190.3" r="0.9" fill="#2e9a2e"/>
<circle cx="296.65" cy="190.3" r="0.9" fill="#2e9a2e"/>
<circle cx="299.14" cy="190.3" r="0.9" fill="#2e9a2e"/>
<circle cx="301.62" cy="190.3" r="0.9" fill="#2e9a2e"/>
<circle cx="304.11" cy="190.3" r="0.9" fill="#2e9a2e"/>
<circle cx="306.6" cy="190.3" r="0.9" fill="#2e9a2e"/>
<circle cx="309.08" cy="190.3" r="0.9" fill="#2e9a2e"/>
<circle cx="311.57" cy="190.3" r="0.9" fill="#2e9a2e"/>
<circle cx="314.05" cy="190.3" r="0.9" fill="#2e9a2e"/>
<circle cx="316.54" cy="190.3" r="0.9" fill="#2e9a2e"/>
<circle cx="319.03" cy="190.52" r="0.9" fill="#2e9a2e"/>
<circle cx="321.51" cy="190.52" r="0.9" fill="#2e9a2e"/>
<circle cx="324" cy="190.52" r="0.9" fill="#2e9a2e"/>
<circle cx="326.48" cy="190.52" r="0.9" fill="#2e9a2e"/>
<circle cx="328.97" cy="190.52" r="0.9" fill="#2e9a2e"/>
<circle cx="331.46" cy="190.52" r="0.9" fill="#2e9a2e"/>
<circle cx="333.94" cy="190.52" r="0.9" fill="#2e9a2e"/>
<circle cx="336.43" cy="190.52" r="0.9" fill="#2e9a2e"/>
<circle cx="338.91" cy="190.52" r="0.9" fill="#2e9a2e"/>
<circle cx="341.4" cy="190.52" r="0.9" fill="#2e9a2e"/>
<rect x="218.54" y="182.91" width="2.1" height="2.6" rx="0.6" fill="#f090c0" stroke="#c8106c" stroke-width="0.75"/>
<rect x="221.02" y="183.23" width="2.1" height="2.6" rx="0.6" fill="#f090c0" stroke="#c8106c" stroke-width="0.75"/>
<rect x="223.51" y="183.56" width="2.1" height="2.6" rx="0.6" fill="#f090c0" stroke="#c8106c" stroke-width="0.75"/>
<rect x="225.99" y="184.21" width="2.1" height="2.6" rx="0.6" fill="#f090c0" stroke="#c8106c" stroke-width="0.75"/>
<rect x="228.48" y="184.85" width="2.1" height="2.6" rx="0.6" fill="#f090c0" stroke="#c8106c" stroke-width="0.75"/>
<rect x="230.97" y="185.5" width="2.1" height="2.6" rx="0.6" fill="#f090c0" stroke="#c8106c" stroke-width="0.75"/>
<rect x="233.45" y="186.15" width="2.1" height="2.6" rx="0.6" fill="#f090c0" stroke="#c8106c" stroke-width="0.75"/>
<rect x="235.94" y="186.8" width="2.1" height="2.6" rx="0.6" fill="#f090c0" stroke="#c8106c" stroke-width="0.75"/>
<rect x="238.42" y="187.45" width="2.1" height="2.6" rx="0.6" fill="#f090c0" stroke="#c8106c" stroke-width="0.75"/>
<rect x="240.91" y="187.18" width="2.1" height="2.6" rx="0.6" fill="#f090c0" stroke="#c8106c" stroke-width="0.75"/>
<rect x="243.4" y="187.18" width="2.1" height="2.6" rx="0.6" fill="#f090c0" stroke="#c8106c" stroke-width="0.75"/>
<rect x="245.88" y="187.18" width="2.1" height="2.6" rx="0.6" fill="#f090c0" stroke="#c8106c" stroke-width="0.75"/>
<rect x="248.37" y="187.18" width="2.1" height="2.6" rx="0.6" fill="#f090c0" stroke="#c8106c" stroke-width="0.75"/>
<rect x="250.85" y="187.18" width="2.1" height="2.6" rx="0.6" fill="#f090c0" stroke="#c8106c" stroke-width="0.75"/>
<rect x="253.34" y="187.18" width="2.1" height="2.6" rx="0.6" fill="#f090c0" stroke="#c8106c" stroke-width="0.75"/>
<rect x="255.83" y="187.18" width="2.1" height="2.6" rx="0.6" fill="#f090c0" stroke="#c8106c" stroke-width="0.75"/>
<rect x="258.31" y="187.18" width="2.1" height="2.6" rx="0.6" fill="#f090c0" stroke="#c8106c" stroke-width="0.75"/>
<rect x="260.8" y="187.18" width="2.1" height="2.6" rx="0.6" fill="#f090c0" stroke="#c8106c" stroke-width="0.75"/>
<rect x="263.28" y="187.18" width="2.1" height="2.6" rx="0.6" fill="#f090c0" stroke="#c8106c" stroke-width="0.75"/>
<rect x="265.77" y="187.18" width="2.1" height="2.6" rx="0.6" fill="#f090c0" stroke="#c8106c" stroke-width="0.75"/>
<rect x="268.26" y="187.18" width="2.1" height="2.6" rx="0.6" fill="#f090c0" stroke="#c8106c" stroke-width="0.75"/>
<rect x="270.74" y="187.18" width="2.1" height="2.6" rx="0.6" fill="#f090c0" stroke="#c8106c" stroke-width="0.75"/>
<rect x="273.23" y="187.18" width="2.1" height="2.6" rx="0.6" fill="#f090c0" stroke="#c8106c" stroke-width="0.75"/>
<rect x="275.71" y="187.18" width="2.1" height="2.6" rx="0.6" fill="#f090c0" stroke="#c8106c" stroke-width="0.75"/>
<rect x="278.2" y="187.18" width="2.1" height="2.6" rx="0.6" fill="#f090c0" stroke="#c8106c" stroke-width="0.75"/>
<rect x="280.69" y="187.18" width="2.1" height="2.6" rx="0.6" fill="#f090c0" stroke="#c8106c" stroke-width="0.75"/>
<rect x="283.17" y="187.18" width="2.1" height="2.6" rx="0.6" fill="#f090c0" stroke="#c8106c" stroke-width="0.75"/>
<rect x="285.66" y="187.5" width="2.1" height="2.6" rx="0.6" fill="#f090c0" stroke="#c8106c" stroke-width="0.75"/>
<rect x="288.14" y="187.5" width="2.1" height="2.6" rx="0.6" fill="#f090c0" stroke="#c8106c" stroke-width="0.75"/>
<rect x="290.63" y="187.5" width="2.1" height="2.6" rx="0.6" fill="#f090c0" stroke="#c8106c" stroke-width="0.75"/>
<rect x="293.12" y="187.5" width="2.1" height="2.6" rx="0.6" fill="#f090c0" stroke="#c8106c" stroke-width="0.75"/>
<rect x="295.6" y="187.5" width="2.1" height="2.6" rx="0.6" fill="#f090c0" stroke="#c8106c" stroke-width="0.75"/>
<rect x="298.09" y="187.5" width="2.1" height="2.6" rx="0.6" fill="#f090c0" stroke="#c8106c" stroke-width="0.75"/>
<rect x="300.57" y="187.5" width="2.1" height="2.6" rx="0.6" fill="#f090c0" stroke="#c8106c" stroke-width="0.75"/>
<rect x="303.06" y="187.5" width="2.1" height="2.6" rx="0.6" fill="#f090c0" stroke="#c8106c" stroke-width="0.75"/>
<rect x="305.55" y="187.5" width="2.1" height="2.6" rx="0.6" fill="#f090c0" stroke="#c8106c" stroke-width="0.75"/>
<rect x="308.03" y="187.5" width="2.1" height="2.6" rx="0.6" fill="#f090c0" stroke="#c8106c" stroke-width="0.75"/>
<rect x="310.52" y="187.5" width="2.1" height="2.6" rx="0.6" fill="#f090c0" stroke="#c8106c" stroke-width="0.75"/>
<rect x="313" y="187.5" width="2.1" height="2.6" rx="0.6" fill="#f090c0" stroke="#c8106c" stroke-width="0.75"/>
<rect x="315.49" y="187.5" width="2.1" height="2.6" rx="0.6" fill="#f090c0" stroke="#c8106c" stroke-width="0.75"/>
<rect x="317.98" y="187.72" width="2.1" height="2.6" rx="0.6" fill="#f090c0" stroke="#c8106c" stroke-width="0.75"/>
<rect x="320.46" y="187.72" width="2.1" height="2.6" rx="0.6" fill="#f090c0" stroke="#c8106c" stroke-width="0.75"/>
<rect x="322.95" y="187.72" width="2.1" height="2.6" rx="0.6" fill="#f090c0" stroke="#c8106c" stroke-width="0.75"/>
<rect x="325.43" y="187.72" width="2.1" height="2.6" rx="0.6" fill="#f090c0" stroke="#c8106c" stroke-width="0.75"/>
<rect x="327.92" y="187.72" width="2.1" height="2.6" rx="0.6" fill="#f090c0" stroke="#c8106c" stroke-width="0.75"/>
<rect x="330.41" y="187.72" width="2.1" height="2.6" rx="0.6" fill="#f090c0" stroke="#c8106c" stroke-width="0.75"/>
<rect x="332.89" y="187.72" width="2.1" height="2.6" rx="0.6" fill="#f090c0" stroke="#c8106c" stroke-width="0.75"/>
<rect x="335.38" y="187.72" width="2.1" height="2.6" rx="0.6" fill="#f090c0" stroke="#c8106c" stroke-width="0.75"/>
<rect x="337.86" y="187.72" width="2.1" height="2.6" rx="0.6" fill="#f090c0" stroke="#c8106c" stroke-width="0.75"/>
<rect x="340.35" y="187.72" width="2.1" height="2.6" rx="0.6" fill="#f090c0" stroke="#c8106c" stroke-width="0.75"/>
<polyline points="219.59,159.48 222.07,159.48 224.56,159.48 227.04,159.48 229.53,159.48 232.02,159.48 234.5,159.48 236.99,159.48 239.47,159.48 241.96,159.48 244.45,159.48 246.93,159.48 249.42,159.48 251.9,159.48 254.39,159.97 256.88,159.97 259.36,159.48 261.85,159.48 264.33,159.48 266.82,159.48 269.31,159.48 271.79,160.66 274.28,159.48 276.76,159.48 279.25,159.48 281.74,159.48 284.22,159.48 286.71,160.07 289.19,160.07 291.68,160.07 294.17,159.48 296.65,159.48 299.14,159.48 301.62,159.48 304.11,159.48 306.6,159.48 309.08,160.46 311.57,159.48 314.05,159.48 316.54,159.48 319.03,159.48 321.51,159.48 324,159.48 326.48,159.48 328.97,159.48 331.46,159.48 333.94,159.48 336.43,159.48 338.91,159.48 341.4,159.48" fill="none" stroke="#2a2ae8" stroke-width="1.0" stroke-linejoin="round" stroke-linecap="round"/>
<circle cx="219.59" cy="159.48" r="1.45" fill="#8a8aff" stroke="#1010e0" stroke-width="0.95"/>
<circle cx="222.07" cy="159.48" r="1.45" fill="#8a8aff" stroke="#1010e0" stroke-width="0.95"/>
<circle cx="224.56" cy="159.48" r="1.45" fill="#8a8aff" stroke="#1010e0" stroke-width="0.95"/>
<circle cx="227.04" cy="159.48" r="1.45" fill="#8a8aff" stroke="#1010e0" stroke-width="0.95"/>
<circle cx="229.53" cy="159.48" r="1.45" fill="#8a8aff" stroke="#1010e0" stroke-width="0.95"/>
<circle cx="232.02" cy="159.48" r="1.45" fill="#8a8aff" stroke="#1010e0" stroke-width="0.95"/>
<circle cx="234.5" cy="159.48" r="1.45" fill="#8a8aff" stroke="#1010e0" stroke-width="0.95"/>
<circle cx="236.99" cy="159.48" r="1.45" fill="#8a8aff" stroke="#1010e0" stroke-width="0.95"/>
<circle cx="239.47" cy="159.48" r="1.45" fill="#8a8aff" stroke="#1010e0" stroke-width="0.95"/>
<circle cx="241.96" cy="159.48" r="1.45" fill="#8a8aff" stroke="#1010e0" stroke-width="0.95"/>
<circle cx="244.45" cy="159.48" r="1.45" fill="#8a8aff" stroke="#1010e0" stroke-width="0.95"/>
<circle cx="246.93" cy="159.48" r="1.45" fill="#8a8aff" stroke="#1010e0" stroke-width="0.95"/>
<circle cx="249.42" cy="159.48" r="1.45" fill="#8a8aff" stroke="#1010e0" stroke-width="0.95"/>
<circle cx="251.9" cy="159.48" r="1.45" fill="#8a8aff" stroke="#1010e0" stroke-width="0.95"/>
<circle cx="254.39" cy="159.97" r="1.45" fill="#8a8aff" stroke="#1010e0" stroke-width="0.95"/>
<circle cx="256.88" cy="159.97" r="1.45" fill="#8a8aff" stroke="#1010e0" stroke-width="0.95"/>
<circle cx="259.36" cy="159.48" r="1.45" fill="#8a8aff" stroke="#1010e0" stroke-width="0.95"/>
<circle cx="261.85" cy="159.48" r="1.45" fill="#8a8aff" stroke="#1010e0" stroke-width="0.95"/>
<circle cx="264.33" cy="159.48" r="1.45" fill="#8a8aff" stroke="#1010e0" stroke-width="0.95"/>
<circle cx="266.82" cy="159.48" r="1.45" fill="#8a8aff" stroke="#1010e0" stroke-width="0.95"/>
<circle cx="269.31" cy="159.48" r="1.45" fill="#8a8aff" stroke="#1010e0" stroke-width="0.95"/>
<circle cx="271.79" cy="160.66" r="1.45" fill="#8a8aff" stroke="#1010e0" stroke-width="0.95"/>
<circle cx="274.28" cy="159.48" r="1.45" fill="#8a8aff" stroke="#1010e0" stroke-width="0.95"/>
<circle cx="276.76" cy="159.48" r="1.45" fill="#8a8aff" stroke="#1010e0" stroke-width="0.95"/>
<circle cx="279.25" cy="159.48" r="1.45" fill="#8a8aff" stroke="#1010e0" stroke-width="0.95"/>
<circle cx="281.74" cy="159.48" r="1.45" fill="#8a8aff" stroke="#1010e0" stroke-width="0.95"/>
<circle cx="284.22" cy="159.48" r="1.45" fill="#8a8aff" stroke="#1010e0" stroke-width="0.95"/>
<circle cx="286.71" cy="160.07" r="1.45" fill="#8a8aff" stroke="#1010e0" stroke-width="0.95"/>
<circle cx="289.19" cy="160.07" r="1.45" fill="#8a8aff" stroke="#1010e0" stroke-width="0.95"/>
<circle cx="291.68" cy="160.07" r="1.45" fill="#8a8aff" stroke="#1010e0" stroke-width="0.95"/>
<circle cx="294.17" cy="159.48" r="1.45" fill="#8a8aff" stroke="#1010e0" stroke-width="0.95"/>
<circle cx="296.65" cy="159.48" r="1.45" fill="#8a8aff" stroke="#1010e0" stroke-width="0.95"/>
<circle cx="299.14" cy="159.48" r="1.45" fill="#8a8aff" stroke="#1010e0" stroke-width="0.95"/>
<circle cx="301.62" cy="159.48" r="1.45" fill="#8a8aff" stroke="#1010e0" stroke-width="0.95"/>
<circle cx="304.11" cy="159.48" r="1.45" fill="#8a8aff" stroke="#1010e0" stroke-width="0.95"/>
<circle cx="306.6" cy="159.48" r="1.45" fill="#8a8aff" stroke="#1010e0" stroke-width="0.95"/>
<circle cx="309.08" cy="160.46" r="1.45" fill="#8a8aff" stroke="#1010e0" stroke-width="0.95"/>
<circle cx="311.57" cy="159.48" r="1.45" fill="#8a8aff" stroke="#1010e0" stroke-width="0.95"/>
<circle cx="314.05" cy="159.48" r="1.45" fill="#8a8aff" stroke="#1010e0" stroke-width="0.95"/>
<circle cx="316.54" cy="159.48" r="1.45" fill="#8a8aff" stroke="#1010e0" stroke-width="0.95"/>
<circle cx="319.03" cy="159.48" r="1.45" fill="#8a8aff" stroke="#1010e0" stroke-width="0.95"/>
<circle cx="321.51" cy="159.48" r="1.45" fill="#8a8aff" stroke="#1010e0" stroke-width="0.95"/>
<circle cx="324" cy="159.48" r="1.45" fill="#8a8aff" stroke="#1010e0" stroke-width="0.95"/>
<circle cx="326.48" cy="159.48" r="1.45" fill="#8a8aff" stroke="#1010e0" stroke-width="0.95"/>
<circle cx="328.97" cy="159.48" r="1.45" fill="#8a8aff" stroke="#1010e0" stroke-width="0.95"/>
<circle cx="331.46" cy="159.48" r="1.45" fill="#8a8aff" stroke="#1010e0" stroke-width="0.95"/>
<circle cx="333.94" cy="159.48" r="1.45" fill="#8a8aff" stroke="#1010e0" stroke-width="0.95"/>
<circle cx="336.43" cy="159.48" r="1.45" fill="#8a8aff" stroke="#1010e0" stroke-width="0.95"/>
<circle cx="338.91" cy="159.48" r="1.45" fill="#8a8aff" stroke="#1010e0" stroke-width="0.95"/>
<circle cx="341.4" cy="159.48" r="1.45" fill="#8a8aff" stroke="#1010e0" stroke-width="0.95"/>
<polyline points="234.6,190.4 234.6,199.7 219.2,199.7" fill="none" stroke="#2e9a2e" stroke-width="1.1" stroke-linejoin="round" stroke-linecap="round" marker-end="url(#ag)"/>
<polyline points="326.5,160.2 326.5,172.3 343,172.3" fill="none" stroke="#2a2ae8" stroke-width="1.1" stroke-linejoin="round" stroke-linecap="round" marker-end="url(#ab)"/>
<line x1="344.5" y1="148" x2="344.5" y2="257" stroke="#3c3cf0" stroke-width="1.2"/>
<line x1="344.5" y1="256.5" x2="342" y2="256.5" stroke="#3c3cf0" stroke-width="1.1"/>
<text transform="translate(345.8 256.5) scale(0.8 1)" font-size="7.2" text-anchor="start" fill="#3333e6" color="#3333e6" font-weight="bold" dominant-baseline="central">0</text>
<line x1="344.5" y1="236.86" x2="342" y2="236.86" stroke="#3c3cf0" stroke-width="1.1"/>
<text transform="translate(345.8 236.86) scale(0.8 1)" font-size="7.2" text-anchor="start" fill="#3333e6" color="#3333e6" font-weight="bold" dominant-baseline="central">20</text>
<line x1="344.5" y1="217.22" x2="342" y2="217.22" stroke="#3c3cf0" stroke-width="1.1"/>
<text transform="translate(345.8 217.22) scale(0.8 1)" font-size="7.2" text-anchor="start" fill="#3333e6" color="#3333e6" font-weight="bold" dominant-baseline="central">40</text>
<line x1="344.5" y1="197.58" x2="342" y2="197.58" stroke="#3c3cf0" stroke-width="1.1"/>
<text transform="translate(345.8 197.58) scale(0.8 1)" font-size="7.2" text-anchor="start" fill="#3333e6" color="#3333e6" font-weight="bold" dominant-baseline="central">60</text>
<line x1="344.5" y1="177.94" x2="342" y2="177.94" stroke="#3c3cf0" stroke-width="1.1"/>
<text transform="translate(345.8 177.94) scale(0.8 1)" font-size="7.2" text-anchor="start" fill="#3333e6" color="#3333e6" font-weight="bold" dominant-baseline="central">80</text>
<line x1="344.5" y1="158.3" x2="342" y2="158.3" stroke="#3c3cf0" stroke-width="1.1"/>
<text transform="translate(345.8 158.3) scale(0.8 1)" font-size="7.2" text-anchor="start" fill="#3333e6" color="#3333e6" font-weight="bold" dominant-baseline="central">100</text>
<line x1="344.5" y1="246.68" x2="343" y2="246.68" stroke="#3c3cf0" stroke-width="1.1"/>
<line x1="344.5" y1="227.04" x2="343" y2="227.04" stroke="#3c3cf0" stroke-width="1.1"/>
<line x1="344.5" y1="207.4" x2="343" y2="207.4" stroke="#3c3cf0" stroke-width="1.1"/>
<line x1="344.5" y1="187.76" x2="343" y2="187.76" stroke="#3c3cf0" stroke-width="1.1"/>
<line x1="344.5" y1="168.12" x2="343" y2="168.12" stroke="#3c3cf0" stroke-width="1.1"/>
<text transform="translate(360.4 200.3) rotate(90)" font-size="8.0" text-anchor="middle" fill="#3333e6" color="#3333e6" font-weight="bold" dominant-baseline="central">Coulombic Efficiency (%)</text>
<text transform="translate(199.2 208.7) rotate(-90)" font-size="8.0" text-anchor="middle" fill="#111" color="#111" font-weight="bold" dominant-baseline="central">Specific Capacity (mAh g<tspan font-size="5" dy="-2.6">-1</tspan><tspan dy="2.6">)</tspan></text>
<text transform="translate(293.4 179.4) scale(0.735 1)" font-size="7.8" text-anchor="middle" fill="#111" color="#111" font-weight="bold" dominant-baseline="central">Pt/Li<tspan font-size="5.2" dy="1.8">2</tspan><tspan dy="-1.8">TiO</tspan><tspan font-size="5.2" dy="1.8">3</tspan><tspan dy="-1.8"> @ 0.5 C-rate</tspan></text>
<line x1="277" y1="226" x2="285.6" y2="226" stroke="#2e9a2e" stroke-width="1"/>
<circle cx="281.3" cy="226" r="1.4" fill="#2e9a2e"/>
<text transform="translate(287.2 225.2) scale(0.85 1)" font-size="6.8" text-anchor="start" fill="#111" color="#111" font-weight="bold" dominant-baseline="central">Discharge</text>
<rect x="280.2" y="233.3" width="2.2" height="2.2" fill="#e23c8c"/>
<text transform="translate(287.2 233.4) scale(0.85 1)" font-size="6.8" text-anchor="start" fill="#111" color="#111" font-weight="bold" dominant-baseline="central">Charge</text>
<line x1="277" y1="242.9" x2="285.6" y2="242.9" stroke="#6a6af0" stroke-width="1"/>
<circle cx="281.3" cy="242.9" r="1.4" fill="#2a2ae8"/>
<text transform="translate(287.2 242) scale(0.85 1)" font-size="6.8" text-anchor="start" fill="#111" color="#111" font-weight="bold" dominant-baseline="central">Coulombic Efficiency</text>
<polyline points="57.8,524.6 61,522.6 64.4,520.9 69,518.3 73.7,516.2 78.4,515.4 83.1,515.3 87.8,515.8 92.5,516.6 97,517.1 101.8,517.1 104.8,516.3 107.8,514.8 111,512.8 114.3,510.3 117.9,507.6 121.6,504.7 125.4,501.9 129.7,498.8 134.3,495.2 139.6,491.3 144.3,487.2 149,482.1 154,476.5 159.1,470.3" fill="none" stroke="#2a2ae8" stroke-width="1" stroke-linejoin="round" stroke-linecap="round"/>
<polyline points="57.8,524.1 61,521 64.4,518.1 69,515 73.7,512.1 78.4,510.2 83.1,508.7 87.8,507.8 92.5,507.2 97,507.3 101.8,507.6 104.8,508 107.8,508.5 110.8,509.2 113.8,509.9 116.8,510.6 119.8,511 122.8,511.1 125.8,510.9 128.8,510.4 131.8,509.6 134.8,508.6 137.8,507.3 140.9,505.4 144.6,503.3 149.3,500.8 153.6,498.6 158.7,496 164.3,493.1 169.9,489.6 175.2,485.3" fill="none" stroke="#ec1c84" stroke-width="1" stroke-linejoin="round" stroke-linecap="round"/>
<circle cx="57.8" cy="524.6" r="2.1" fill="url(#gb)"/>
<circle cx="59.07" cy="523.81" r="2.1" fill="url(#gb)"/>
<circle cx="60.34" cy="523.01" r="2.1" fill="url(#gb)"/>
<circle cx="61.65" cy="522.28" r="2.1" fill="url(#gb)"/>
<circle cx="62.99" cy="521.6" r="2.1" fill="url(#gb)"/>
<circle cx="64.33" cy="520.93" r="2.1" fill="url(#gb)"/>
<circle cx="65.64" cy="520.2" r="2.1" fill="url(#gb)"/>
<circle cx="66.95" cy="519.46" r="2.1" fill="url(#gb)"/>
<circle cx="68.25" cy="518.72" r="2.1" fill="url(#gb)"/>
<circle cx="69.59" cy="518.04" r="2.1" fill="url(#gb)"/>
<circle cx="70.95" cy="517.43" r="2.1" fill="url(#gb)"/>
<circle cx="72.32" cy="516.81" r="2.1" fill="url(#gb)"/>
<circle cx="73.69" cy="516.2" r="2.1" fill="url(#gb)"/>
<circle cx="75.17" cy="515.95" r="2.1" fill="url(#gb)"/>
<circle cx="76.65" cy="515.7" r="2.1" fill="url(#gb)"/>
<circle cx="78.13" cy="515.45" r="2.1" fill="url(#gb)"/>
<circle cx="79.63" cy="515.37" r="2.1" fill="url(#gb)"/>
<circle cx="81.13" cy="515.34" r="2.1" fill="url(#gb)"/>
<circle cx="82.62" cy="515.31" r="2.1" fill="url(#gb)"/>
<circle cx="84.12" cy="515.41" r="2.1" fill="url(#gb)"/>
<circle cx="85.61" cy="515.57" r="2.1" fill="url(#gb)"/>
<circle cx="87.1" cy="515.73" r="2.1" fill="url(#gb)"/>
<circle cx="88.59" cy="515.93" r="2.1" fill="url(#gb)"/>
<circle cx="90.07" cy="516.19" r="2.1" fill="url(#gb)"/>
<circle cx="91.54" cy="516.44" r="2.1" fill="url(#gb)"/>
<circle cx="93.03" cy="516.66" r="2.1" fill="url(#gb)"/>
<circle cx="94.52" cy="516.82" r="2.1" fill="url(#gb)"/>
<circle cx="96.01" cy="516.99" r="2.1" fill="url(#gb)"/>
<circle cx="97.5" cy="517.1" r="2.1" fill="url(#gb)"/>
<circle cx="99" cy="517.1" r="2.1" fill="url(#gb)"/>
<circle cx="100.5" cy="517.1" r="2.1" fill="url(#gb)"/>
<circle cx="102" cy="517.05" r="2.1" fill="url(#gb)"/>
<circle cx="103.45" cy="516.66" r="2.1" fill="url(#gb)"/>
<circle cx="104.89" cy="516.26" r="2.1" fill="url(#gb)"/>
<circle cx="106.23" cy="515.59" r="2.1" fill="url(#gb)"/>
<circle cx="107.57" cy="514.91" r="2.1" fill="url(#gb)"/>
<circle cx="111" cy="512.8" r="2.1" fill="url(#gb)"/>
<circle cx="114.3" cy="510.3" r="2.1" fill="url(#gb)"/>
<circle cx="117.9" cy="507.6" r="2.1" fill="url(#gb)"/>
<circle cx="121.6" cy="504.7" r="2.1" fill="url(#gb)"/>
<circle cx="125.4" cy="501.9" r="2.1" fill="url(#gb)"/>
<circle cx="129.7" cy="498.8" r="2.1" fill="url(#gb)"/>
<circle cx="134.3" cy="495.2" r="2.1" fill="url(#gb)"/>
<circle cx="139.6" cy="491.3" r="2.1" fill="url(#gb)"/>
<circle cx="144.3" cy="487.2" r="2.1" fill="url(#gb)"/>
<circle cx="149" cy="482.1" r="2.1" fill="url(#gb)"/>
<circle cx="154" cy="476.5" r="2.1" fill="url(#gb)"/>
<circle cx="159.1" cy="470.3" r="2.1" fill="url(#gb)"/>
<circle cx="57.8" cy="524.1" r="2.1" fill="url(#gp)"/>
<circle cx="58.88" cy="523.06" r="2.1" fill="url(#gp)"/>
<circle cx="59.95" cy="522.01" r="2.1" fill="url(#gp)"/>
<circle cx="61.03" cy="520.97" r="2.1" fill="url(#gp)"/>
<circle cx="62.18" cy="520" r="2.1" fill="url(#gp)"/>
<circle cx="63.32" cy="519.02" r="2.1" fill="url(#gp)"/>
<circle cx="64.46" cy="518.06" r="2.1" fill="url(#gp)"/>
<circle cx="65.71" cy="517.22" r="2.1" fill="url(#gp)"/>
<circle cx="66.95" cy="516.38" r="2.1" fill="url(#gp)"/>
<circle cx="68.19" cy="515.54" r="2.1" fill="url(#gp)"/>
<circle cx="69.45" cy="514.72" r="2.1" fill="url(#gp)"/>
<circle cx="70.73" cy="513.93" r="2.1" fill="url(#gp)"/>
<circle cx="72" cy="513.15" r="2.1" fill="url(#gp)"/>
<circle cx="73.28" cy="512.36" r="2.1" fill="url(#gp)"/>
<circle cx="74.63" cy="511.72" r="2.1" fill="url(#gp)"/>
<circle cx="76.02" cy="511.16" r="2.1" fill="url(#gp)"/>
<circle cx="77.41" cy="510.6" r="2.1" fill="url(#gp)"/>
<circle cx="78.82" cy="510.07" r="2.1" fill="url(#gp)"/>
<circle cx="80.24" cy="509.61" r="2.1" fill="url(#gp)"/>
<circle cx="81.67" cy="509.16" r="2.1" fill="url(#gp)"/>
<circle cx="83.1" cy="508.7" r="2.1" fill="url(#gp)"/>
<circle cx="84.58" cy="508.42" r="2.1" fill="url(#gp)"/>
<circle cx="86.05" cy="508.14" r="2.1" fill="url(#gp)"/>
<circle cx="87.52" cy="507.85" r="2.1" fill="url(#gp)"/>
<circle cx="89.01" cy="507.65" r="2.1" fill="url(#gp)"/>
<circle cx="90.5" cy="507.46" r="2.1" fill="url(#gp)"/>
<circle cx="91.98" cy="507.27" r="2.1" fill="url(#gp)"/>
<circle cx="93.48" cy="507.22" r="2.1" fill="url(#gp)"/>
<circle cx="94.98" cy="507.26" r="2.1" fill="url(#gp)"/>
<circle cx="96.48" cy="507.29" r="2.1" fill="url(#gp)"/>
<circle cx="97.98" cy="507.36" r="2.1" fill="url(#gp)"/>
<circle cx="99.47" cy="507.45" r="2.1" fill="url(#gp)"/>
<circle cx="100.97" cy="507.55" r="2.1" fill="url(#gp)"/>
<circle cx="104.8" cy="508" r="2.1" fill="url(#gp)"/>
<circle cx="107.8" cy="508.5" r="2.1" fill="url(#gp)"/>
<circle cx="110.8" cy="509.2" r="2.1" fill="url(#gp)"/>
<circle cx="113.8" cy="509.9" r="2.1" fill="url(#gp)"/>
<circle cx="116.8" cy="510.6" r="2.1" fill="url(#gp)"/>
<circle cx="119.8" cy="511" r="2.1" fill="url(#gp)"/>
<circle cx="122.8" cy="511.1" r="2.1" fill="url(#gp)"/>
<circle cx="125.8" cy="510.9" r="2.1" fill="url(#gp)"/>
<circle cx="128.8" cy="510.4" r="2.1" fill="url(#gp)"/>
<circle cx="131.8" cy="509.6" r="2.1" fill="url(#gp)"/>
<circle cx="134.8" cy="508.6" r="2.1" fill="url(#gp)"/>
<circle cx="137.8" cy="507.3" r="2.1" fill="url(#gp)"/>
<circle cx="140.9" cy="505.4" r="2.1" fill="url(#gp)"/>
<circle cx="144.6" cy="503.3" r="2.1" fill="url(#gp)"/>
<circle cx="149.3" cy="500.8" r="2.1" fill="url(#gp)"/>
<circle cx="153.6" cy="498.6" r="2.1" fill="url(#gp)"/>
<circle cx="158.7" cy="496" r="2.1" fill="url(#gp)"/>
<circle cx="164.3" cy="493.1" r="2.1" fill="url(#gp)"/>
<circle cx="169.9" cy="489.6" r="2.1" fill="url(#gp)"/>
<circle cx="175.2" cy="485.3" r="2.1" fill="url(#gp)"/>
<polyline points="70.1,444.8 76.2,444.8 78.9,440 81.4,450.7 84.4,440 87.4,450.7 89.6,441.5 90.7,444.8 96.6,444.8" fill="none" stroke="#151515" stroke-width="1.8" stroke-linejoin="round" stroke-linecap="round"/>
<polyline points="96.6,436 96.6,452.1" fill="none" stroke="#151515" stroke-width="1.8" stroke-linejoin="round" stroke-linecap="round"/>
<polyline points="96.6,436 113,436" fill="none" stroke="#151515" stroke-width="1.8" stroke-linejoin="round" stroke-linecap="round"/>
<polyline points="127.8,436 141.8,436 141.8,452.1" fill="none" stroke="#151515" stroke-width="1.8" stroke-linejoin="round" stroke-linecap="round"/>
<rect x="113" y="429.4" width="14.8" height="14" fill="#fff" stroke="#333" stroke-width="1.6"/>
<text x="120.4" y="434.6" font-size="6.2" text-anchor="middle" fill="#222" color="#222" font-weight="bold" dominant-baseline="central">CPE</text>
<polyline points="96.6,452.1 106.4,452.1 108.4,446.7 111,458 113.7,446.7 116.1,458 118.4,447.5 120.4,452.1 124.6,452.1" fill="none" stroke="#151515" stroke-width="1.8" stroke-linejoin="round" stroke-linecap="round"/>
<polyline points="124.8,449.2 127.6,456.3 130,450.5 132.4,456.3 135.2,449.2" fill="none" stroke="#151515" stroke-width="2.0" stroke-linejoin="round" stroke-linecap="round"/>
<polyline points="135.4,452.1 141.8,452.1" fill="none" stroke="#151515" stroke-width="1.8" stroke-linejoin="round" stroke-linecap="round"/>
<polyline points="141.8,445.1 149.8,445.1" fill="none" stroke="#151515" stroke-width="1.8" stroke-linejoin="round" stroke-linecap="round"/>
<text x="84.3" y="432.5" font-size="6.3" text-anchor="middle" fill="#111" color="#111" font-weight="bold" dominant-baseline="central">R<tspan font-size="4.4" dy="1">s</tspan></text>
<text x="113.7" y="463.4" font-size="6.3" text-anchor="middle" fill="#111" color="#111" font-weight="bold" dominant-baseline="central">R<tspan font-size="4.4" dy="1">ct</tspan></text>
<text x="129.1" y="462.5" font-size="6.3" text-anchor="middle" fill="#111" color="#111" font-weight="bold" dominant-baseline="central">Z<tspan font-size="4.4" dy="1">w</tspan></text>
<text x="152.5" y="425.3" font-size="8" text-anchor="start" fill="#111" color="#111" font-weight="bold" dominant-baseline="central">LiCoO<tspan font-size="5.5" dy="2">2</tspan></text>
<line x1="49.3" y1="479.6" x2="62.8" y2="479.6" stroke="#2a2ae8" stroke-width="1"/>
<circle cx="56.2" cy="479.6" r="1.9" fill="url(#gb)"/>
<text x="64.3" y="479.8" font-size="7.7" text-anchor="start" fill="#111" color="#111" font-weight="bold" dominant-baseline="central">1<tspan font-size="5" dy="-2.6">st</tspan><tspan dy="2.6"> Cycle</tspan></text>
<line x1="49.3" y1="491.4" x2="62.8" y2="491.4" stroke="#ec1c84" stroke-width="1"/>
<circle cx="56.2" cy="491.4" r="1.9" fill="url(#gp)"/>
<text x="64.3" y="491.6" font-size="7.7" text-anchor="start" fill="#111" color="#111" font-weight="bold" dominant-baseline="central">After 50<tspan font-size="5" dy="-2.6">th</tspan><tspan dy="2.6"> Cycle</tspan></text>
<text transform="translate(20.6 468.6) rotate(-90)" font-size="9.1" text-anchor="middle" fill="#111" color="#111" font-weight="bold" dominant-baseline="central">- Z&#8242;&#8242;(&#937;)</text>
<text x="123.4" y="542.2" font-size="9.8" text-anchor="middle" fill="#111" color="#111" font-weight="bold" dominant-baseline="central">Z&#8242; (&#937;)</text>
<polyline points="220.66,450.43 223.22,450.43 225.78,450.67 228.34,450.92 230.9,451.17 233.46,451.42 236.02,451.66 238.58,451.91 241.14,452.16 243.7,452.41 246.26,452.65 248.82,452.9 251.38,452.94 253.94,452.99 256.5,453.03 259.06,453.08 261.62,453.12 264.18,453.16 266.74,453.21 269.3,453.25 271.86,453.3 274.42,453.34 276.98,453.38 279.54,453.43 282.1,453.47 284.66,453.45 287.22,453.45 289.78,453.45 292.34,453.45 294.9,453.45 297.46,453.45 300.02,453.45 302.58,453.45 305.14,453.45 307.7,453.45 310.26,453.45 312.82,453.45 315.38,453.45 317.94,453.45 320.5,453.45 323.06,453.45 325.62,453.45 328.18,453.45 330.74,453.45 333.3,453.45 335.86,453.45 338.42,453.45 340.98,453.45 343.54,453.45 346.1,453.45" fill="none" stroke="#2e9a2e" stroke-width="1.2" stroke-linejoin="round" stroke-linecap="round"/>
<circle cx="220.66" cy="450.43" r="0.9" fill="#2e9a2e"/>
<circle cx="223.22" cy="450.43" r="0.9" fill="#2e9a2e"/>
<circle cx="225.78" cy="450.67" r="0.9" fill="#2e9a2e"/>
<circle cx="228.34" cy="450.92" r="0.9" fill="#2e9a2e"/>
<circle cx="230.9" cy="451.17" r="0.9" fill="#2e9a2e"/>
<circle cx="233.46" cy="451.42" r="0.9" fill="#2e9a2e"/>
<circle cx="236.02" cy="451.66" r="0.9" fill="#2e9a2e"/>
<circle cx="238.58" cy="451.91" r="0.9" fill="#2e9a2e"/>
<circle cx="241.14" cy="452.16" r="0.9" fill="#2e9a2e"/>
<circle cx="243.7" cy="452.41" r="0.9" fill="#2e9a2e"/>
<circle cx="246.26" cy="452.65" r="0.9" fill="#2e9a2e"/>
<circle cx="248.82" cy="452.9" r="0.9" fill="#2e9a2e"/>
<circle cx="251.38" cy="452.94" r="0.9" fill="#2e9a2e"/>
<circle cx="253.94" cy="452.99" r="0.9" fill="#2e9a2e"/>
<circle cx="256.5" cy="453.03" r="0.9" fill="#2e9a2e"/>
<circle cx="259.06" cy="453.08" r="0.9" fill="#2e9a2e"/>
<circle cx="261.62" cy="453.12" r="0.9" fill="#2e9a2e"/>
<circle cx="264.18" cy="453.16" r="0.9" fill="#2e9a2e"/>
<circle cx="266.74" cy="453.21" r="0.9" fill="#2e9a2e"/>
<circle cx="269.3" cy="453.25" r="0.9" fill="#2e9a2e"/>
<circle cx="271.86" cy="453.3" r="0.9" fill="#2e9a2e"/>
<circle cx="274.42" cy="453.34" r="0.9" fill="#2e9a2e"/>
<circle cx="276.98" cy="453.38" r="0.9" fill="#2e9a2e"/>
<circle cx="279.54" cy="453.43" r="0.9" fill="#2e9a2e"/>
<circle cx="282.1" cy="453.47" r="0.9" fill="#2e9a2e"/>
<circle cx="284.66" cy="453.45" r="0.9" fill="#2e9a2e"/>
<circle cx="287.22" cy="453.45" r="0.9" fill="#2e9a2e"/>
<circle cx="289.78" cy="453.45" r="0.9" fill="#2e9a2e"/>
<circle cx="292.34" cy="453.45" r="0.9" fill="#2e9a2e"/>
<circle cx="294.9" cy="453.45" r="0.9" fill="#2e9a2e"/>
<circle cx="297.46" cy="453.45" r="0.9" fill="#2e9a2e"/>
<circle cx="300.02" cy="453.45" r="0.9" fill="#2e9a2e"/>
<circle cx="302.58" cy="453.45" r="0.9" fill="#2e9a2e"/>
<circle cx="305.14" cy="453.45" r="0.9" fill="#2e9a2e"/>
<circle cx="307.7" cy="453.45" r="0.9" fill="#2e9a2e"/>
<circle cx="310.26" cy="453.45" r="0.9" fill="#2e9a2e"/>
<circle cx="312.82" cy="453.45" r="0.9" fill="#2e9a2e"/>
<circle cx="315.38" cy="453.45" r="0.9" fill="#2e9a2e"/>
<circle cx="317.94" cy="453.45" r="0.9" fill="#2e9a2e"/>
<circle cx="320.5" cy="453.45" r="0.9" fill="#2e9a2e"/>
<circle cx="323.06" cy="453.45" r="0.9" fill="#2e9a2e"/>
<circle cx="325.62" cy="453.45" r="0.9" fill="#2e9a2e"/>
<circle cx="328.18" cy="453.45" r="0.9" fill="#2e9a2e"/>
<circle cx="330.74" cy="453.45" r="0.9" fill="#2e9a2e"/>
<circle cx="333.3" cy="453.45" r="0.9" fill="#2e9a2e"/>
<circle cx="335.86" cy="453.45" r="0.9" fill="#2e9a2e"/>
<circle cx="338.42" cy="453.45" r="0.9" fill="#2e9a2e"/>
<circle cx="340.98" cy="453.45" r="0.9" fill="#2e9a2e"/>
<circle cx="343.54" cy="453.45" r="0.9" fill="#2e9a2e"/>
<circle cx="346.1" cy="453.45" r="0.9" fill="#2e9a2e"/>
<rect x="219.61" y="447.63" width="2.1" height="2.6" rx="0.6" fill="#f090c0" stroke="#c8106c" stroke-width="0.75"/>
<rect x="222.17" y="447.63" width="2.1" height="2.6" rx="0.6" fill="#f090c0" stroke="#c8106c" stroke-width="0.75"/>
<rect x="224.73" y="447.87" width="2.1" height="2.6" rx="0.6" fill="#f090c0" stroke="#c8106c" stroke-width="0.75"/>
<rect x="227.29" y="448.12" width="2.1" height="2.6" rx="0.6" fill="#f090c0" stroke="#c8106c" stroke-width="0.75"/>
<rect x="229.85" y="448.37" width="2.1" height="2.6" rx="0.6" fill="#f090c0" stroke="#c8106c" stroke-width="0.75"/>
<rect x="232.41" y="448.62" width="2.1" height="2.6" rx="0.6" fill="#f090c0" stroke="#c8106c" stroke-width="0.75"/>
<rect x="234.97" y="448.86" width="2.1" height="2.6" rx="0.6" fill="#f090c0" stroke="#c8106c" stroke-width="0.75"/>
<rect x="237.53" y="449.11" width="2.1" height="2.6" rx="0.6" fill="#f090c0" stroke="#c8106c" stroke-width="0.75"/>
<rect x="240.09" y="449.36" width="2.1" height="2.6" rx="0.6" fill="#f090c0" stroke="#c8106c" stroke-width="0.75"/>
<rect x="242.65" y="449.61" width="2.1" height="2.6" rx="0.6" fill="#f090c0" stroke="#c8106c" stroke-width="0.75"/>
<rect x="245.21" y="449.85" width="2.1" height="2.6" rx="0.6" fill="#f090c0" stroke="#c8106c" stroke-width="0.75"/>
<rect x="247.77" y="450.1" width="2.1" height="2.6" rx="0.6" fill="#f090c0" stroke="#c8106c" stroke-width="0.75"/>
<rect x="250.33" y="450.14" width="2.1" height="2.6" rx="0.6" fill="#f090c0" stroke="#c8106c" stroke-width="0.75"/>
<rect x="252.89" y="450.19" width="2.1" height="2.6" rx="0.6" fill="#f090c0" stroke="#c8106c" stroke-width="0.75"/>
<rect x="255.45" y="450.23" width="2.1" height="2.6" rx="0.6" fill="#f090c0" stroke="#c8106c" stroke-width="0.75"/>
<rect x="258.01" y="450.28" width="2.1" height="2.6" rx="0.6" fill="#f090c0" stroke="#c8106c" stroke-width="0.75"/>
<rect x="260.57" y="450.32" width="2.1" height="2.6" rx="0.6" fill="#f090c0" stroke="#c8106c" stroke-width="0.75"/>
<rect x="263.13" y="450.36" width="2.1" height="2.6" rx="0.6" fill="#f090c0" stroke="#c8106c" stroke-width="0.75"/>
<rect x="265.69" y="450.41" width="2.1" height="2.6" rx="0.6" fill="#f090c0" stroke="#c8106c" stroke-width="0.75"/>
<rect x="268.25" y="450.45" width="2.1" height="2.6" rx="0.6" fill="#f090c0" stroke="#c8106c" stroke-width="0.75"/>
<rect x="270.81" y="450.5" width="2.1" height="2.6" rx="0.6" fill="#f090c0" stroke="#c8106c" stroke-width="0.75"/>
<rect x="273.37" y="450.54" width="2.1" height="2.6" rx="0.6" fill="#f090c0" stroke="#c8106c" stroke-width="0.75"/>
<rect x="275.93" y="450.58" width="2.1" height="2.6" rx="0.6" fill="#f090c0" stroke="#c8106c" stroke-width="0.75"/>
<rect x="278.49" y="450.63" width="2.1" height="2.6" rx="0.6" fill="#f090c0" stroke="#c8106c" stroke-width="0.75"/>
<rect x="281.05" y="450.67" width="2.1" height="2.6" rx="0.6" fill="#f090c0" stroke="#c8106c" stroke-width="0.75"/>
<rect x="283.61" y="450.65" width="2.1" height="2.6" rx="0.6" fill="#f090c0" stroke="#c8106c" stroke-width="0.75"/>
<rect x="286.17" y="450.65" width="2.1" height="2.6" rx="0.6" fill="#f090c0" stroke="#c8106c" stroke-width="0.75"/>
<rect x="288.73" y="450.65" width="2.1" height="2.6" rx="0.6" fill="#f090c0" stroke="#c8106c" stroke-width="0.75"/>
<rect x="291.29" y="450.65" width="2.1" height="2.6" rx="0.6" fill="#f090c0" stroke="#c8106c" stroke-width="0.75"/>
<rect x="293.85" y="450.65" width="2.1" height="2.6" rx="0.6" fill="#f090c0" stroke="#c8106c" stroke-width="0.75"/>
<rect x="296.41" y="450.65" width="2.1" height="2.6" rx="0.6" fill="#f090c0" stroke="#c8106c" stroke-width="0.75"/>
<rect x="298.97" y="450.65" width="2.1" height="2.6" rx="0.6" fill="#f090c0" stroke="#c8106c" stroke-width="0.75"/>
<rect x="301.53" y="450.65" width="2.1" height="2.6" rx="0.6" fill="#f090c0" stroke="#c8106c" stroke-width="0.75"/>
<rect x="304.09" y="450.65" width="2.1" height="2.6" rx="0.6" fill="#f090c0" stroke="#c8106c" stroke-width="0.75"/>
<rect x="306.65" y="450.65" width="2.1" height="2.6" rx="0.6" fill="#f090c0" stroke="#c8106c" stroke-width="0.75"/>
<rect x="309.21" y="450.65" width="2.1" height="2.6" rx="0.6" fill="#f090c0" stroke="#c8106c" stroke-width="0.75"/>
<rect x="311.77" y="450.65" width="2.1" height="2.6" rx="0.6" fill="#f090c0" stroke="#c8106c" stroke-width="0.75"/>
<rect x="314.33" y="450.65" width="2.1" height="2.6" rx="0.6" fill="#f090c0" stroke="#c8106c" stroke-width="0.75"/>
<rect x="316.89" y="450.65" width="2.1" height="2.6" rx="0.6" fill="#f090c0" stroke="#c8106c" stroke-width="0.75"/>
<rect x="319.45" y="450.65" width="2.1" height="2.6" rx="0.6" fill="#f090c0" stroke="#c8106c" stroke-width="0.75"/>
<rect x="322.01" y="450.65" width="2.1" height="2.6" rx="0.6" fill="#f090c0" stroke="#c8106c" stroke-width="0.75"/>
<rect x="324.57" y="450.65" width="2.1" height="2.6" rx="0.6" fill="#f090c0" stroke="#c8106c" stroke-width="0.75"/>
<rect x="327.13" y="450.65" width="2.1" height="2.6" rx="0.6" fill="#f090c0" stroke="#c8106c" stroke-width="0.75"/>
<rect x="329.69" y="450.65" width="2.1" height="2.6" rx="0.6" fill="#f090c0" stroke="#c8106c" stroke-width="0.75"/>
<rect x="332.25" y="450.65" width="2.1" height="2.6" rx="0.6" fill="#f090c0" stroke="#c8106c" stroke-width="0.75"/>
<rect x="334.81" y="450.65" width="2.1" height="2.6" rx="0.6" fill="#f090c0" stroke="#c8106c" stroke-width="0.75"/>
<rect x="337.37" y="450.65" width="2.1" height="2.6" rx="0.6" fill="#f090c0" stroke="#c8106c" stroke-width="0.75"/>
<rect x="339.93" y="450.65" width="2.1" height="2.6" rx="0.6" fill="#f090c0" stroke="#c8106c" stroke-width="0.75"/>
<rect x="342.49" y="450.65" width="2.1" height="2.6" rx="0.6" fill="#f090c0" stroke="#c8106c" stroke-width="0.75"/>
<rect x="345.05" y="450.65" width="2.1" height="2.6" rx="0.6" fill="#f090c0" stroke="#c8106c" stroke-width="0.75"/>
<polyline points="220.66,426.4 223.22,426.4 225.78,426.9 228.34,426.4 230.9,427.5 233.46,426.4 236.02,426.4 238.58,426.4 241.14,426.4 243.7,426.4 246.26,426.4 248.82,426.4 251.38,426.4 253.94,426.4 256.5,426.4 259.06,426.4 261.62,426.4 264.18,426.4 266.74,426.4 269.3,426.4 271.86,426.4 274.42,426.4 276.98,426.4 279.54,426.4 282.1,426.4 284.66,426.4 287.22,426.4 289.78,426.4 292.34,426.4 294.9,426.4 297.46,426.4 300.02,426.4 302.58,426.4 305.14,426.4 307.7,426.4 310.26,426.4 312.82,426.4 315.38,426.4 317.94,426.4 320.5,426.4 323.06,426.4 325.62,426.4 328.18,426.4 330.74,426.4 333.3,426.4 335.86,426.4 338.42,426.4 340.98,426.4 343.54,426.4 346.1,426.4" fill="none" stroke="#2a2ae8" stroke-width="1.0" stroke-linejoin="round" stroke-linecap="round"/>
<circle cx="220.66" cy="426.4" r="1.45" fill="#8a8aff" stroke="#1010e0" stroke-width="0.95"/>
<circle cx="223.22" cy="426.4" r="1.45" fill="#8a8aff" stroke="#1010e0" stroke-width="0.95"/>
<circle cx="225.78" cy="426.9" r="1.45" fill="#8a8aff" stroke="#1010e0" stroke-width="0.95"/>
<circle cx="228.34" cy="426.4" r="1.45" fill="#8a8aff" stroke="#1010e0" stroke-width="0.95"/>
<circle cx="230.9" cy="427.5" r="1.45" fill="#8a8aff" stroke="#1010e0" stroke-width="0.95"/>
<circle cx="233.46" cy="426.4" r="1.45" fill="#8a8aff" stroke="#1010e0" stroke-width="0.95"/>
<circle cx="236.02" cy="426.4" r="1.45" fill="#8a8aff" stroke="#1010e0" stroke-width="0.95"/>
<circle cx="238.58" cy="426.4" r="1.45" fill="#8a8aff" stroke="#1010e0" stroke-width="0.95"/>
<circle cx="241.14" cy="426.4" r="1.45" fill="#8a8aff" stroke="#1010e0" stroke-width="0.95"/>
<circle cx="243.7" cy="426.4" r="1.45" fill="#8a8aff" stroke="#1010e0" stroke-width="0.95"/>
<circle cx="246.26" cy="426.4" r="1.45" fill="#8a8aff" stroke="#1010e0" stroke-width="0.95"/>
<circle cx="248.82" cy="426.4" r="1.45" fill="#8a8aff" stroke="#1010e0" stroke-width="0.95"/>
<circle cx="251.38" cy="426.4" r="1.45" fill="#8a8aff" stroke="#1010e0" stroke-width="0.95"/>
<circle cx="253.94" cy="426.4" r="1.45" fill="#8a8aff" stroke="#1010e0" stroke-width="0.95"/>
<circle cx="256.5" cy="426.4" r="1.45" fill="#8a8aff" stroke="#1010e0" stroke-width="0.95"/>
<circle cx="259.06" cy="426.4" r="1.45" fill="#8a8aff" stroke="#1010e0" stroke-width="0.95"/>
<circle cx="261.62" cy="426.4" r="1.45" fill="#8a8aff" stroke="#1010e0" stroke-width="0.95"/>
<circle cx="264.18" cy="426.4" r="1.45" fill="#8a8aff" stroke="#1010e0" stroke-width="0.95"/>
<circle cx="266.74" cy="426.4" r="1.45" fill="#8a8aff" stroke="#1010e0" stroke-width="0.95"/>
<circle cx="269.3" cy="426.4" r="1.45" fill="#8a8aff" stroke="#1010e0" stroke-width="0.95"/>
<circle cx="271.86" cy="426.4" r="1.45" fill="#8a8aff" stroke="#1010e0" stroke-width="0.95"/>
<circle cx="274.42" cy="426.4" r="1.45" fill="#8a8aff" stroke="#1010e0" stroke-width="0.95"/>
<circle cx="276.98" cy="426.4" r="1.45" fill="#8a8aff" stroke="#1010e0" stroke-width="0.95"/>
<circle cx="279.54" cy="426.4" r="1.45" fill="#8a8aff" stroke="#1010e0" stroke-width="0.95"/>
<circle cx="282.1" cy="426.4" r="1.45" fill="#8a8aff" stroke="#1010e0" stroke-width="0.95"/>
<circle cx="284.66" cy="426.4" r="1.45" fill="#8a8aff" stroke="#1010e0" stroke-width="0.95"/>
<circle cx="287.22" cy="426.4" r="1.45" fill="#8a8aff" stroke="#1010e0" stroke-width="0.95"/>
<circle cx="289.78" cy="426.4" r="1.45" fill="#8a8aff" stroke="#1010e0" stroke-width="0.95"/>
<circle cx="292.34" cy="426.4" r="1.45" fill="#8a8aff" stroke="#1010e0" stroke-width="0.95"/>
<circle cx="294.9" cy="426.4" r="1.45" fill="#8a8aff" stroke="#1010e0" stroke-width="0.95"/>
<circle cx="297.46" cy="426.4" r="1.45" fill="#8a8aff" stroke="#1010e0" stroke-width="0.95"/>
<circle cx="300.02" cy="426.4" r="1.45" fill="#8a8aff" stroke="#1010e0" stroke-width="0.95"/>
<circle cx="302.58" cy="426.4" r="1.45" fill="#8a8aff" stroke="#1010e0" stroke-width="0.95"/>
<circle cx="305.14" cy="426.4" r="1.45" fill="#8a8aff" stroke="#1010e0" stroke-width="0.95"/>
<circle cx="307.7" cy="426.4" r="1.45" fill="#8a8aff" stroke="#1010e0" stroke-width="0.95"/>
<circle cx="310.26" cy="426.4" r="1.45" fill="#8a8aff" stroke="#1010e0" stroke-width="0.95"/>
<circle cx="312.82" cy="426.4" r="1.45" fill="#8a8aff" stroke="#1010e0" stroke-width="0.95"/>
<circle cx="315.38" cy="426.4" r="1.45" fill="#8a8aff" stroke="#1010e0" stroke-width="0.95"/>
<circle cx="317.94" cy="426.4" r="1.45" fill="#8a8aff" stroke="#1010e0" stroke-width="0.95"/>
<circle cx="320.5" cy="426.4" r="1.45" fill="#8a8aff" stroke="#1010e0" stroke-width="0.95"/>
<circle cx="323.06" cy="426.4" r="1.45" fill="#8a8aff" stroke="#1010e0" stroke-width="0.95"/>
<circle cx="325.62" cy="426.4" r="1.45" fill="#8a8aff" stroke="#1010e0" stroke-width="0.95"/>
<circle cx="328.18" cy="426.4" r="1.45" fill="#8a8aff" stroke="#1010e0" stroke-width="0.95"/>
<circle cx="330.74" cy="426.4" r="1.45" fill="#8a8aff" stroke="#1010e0" stroke-width="0.95"/>
<circle cx="333.3" cy="426.4" r="1.45" fill="#8a8aff" stroke="#1010e0" stroke-width="0.95"/>
<circle cx="335.86" cy="426.4" r="1.45" fill="#8a8aff" stroke="#1010e0" stroke-width="0.95"/>
<circle cx="338.42" cy="426.4" r="1.45" fill="#8a8aff" stroke="#1010e0" stroke-width="0.95"/>
<circle cx="340.98" cy="426.4" r="1.45" fill="#8a8aff" stroke="#1010e0" stroke-width="0.95"/>
<circle cx="343.54" cy="426.4" r="1.45" fill="#8a8aff" stroke="#1010e0" stroke-width="0.95"/>
<circle cx="346.1" cy="426.4" r="1.45" fill="#8a8aff" stroke="#1010e0" stroke-width="0.95"/>
<polyline points="231.4,452.4 231.4,463.3 221.3,463.3" fill="none" stroke="#2e9a2e" stroke-width="1.1" stroke-linejoin="round" stroke-linecap="round" marker-end="url(#ag)"/>
<polyline points="332.8,427.8 332.8,438.2 346.9,438.2" fill="none" stroke="#2a2ae8" stroke-width="1.1" stroke-linejoin="round" stroke-linecap="round" marker-end="url(#ab)"/>
<line x1="347.5" y1="416" x2="347.5" y2="527" stroke="#3c3cf0" stroke-width="1.2"/>
<line x1="347.5" y1="526.5" x2="345" y2="526.5" stroke="#3c3cf0" stroke-width="1.1"/>
<text transform="translate(350.2 526.5) scale(0.8 1)" font-size="7.2" text-anchor="start" fill="#3333e6" color="#3333e6" font-weight="bold" dominant-baseline="central">0</text>
<line x1="347.5" y1="506.5" x2="345" y2="506.5" stroke="#3c3cf0" stroke-width="1.1"/>
<text transform="translate(350.2 506.5) scale(0.8 1)" font-size="7.2" text-anchor="start" fill="#3333e6" color="#3333e6" font-weight="bold" dominant-baseline="central">20</text>
<line x1="347.5" y1="486.5" x2="345" y2="486.5" stroke="#3c3cf0" stroke-width="1.1"/>
<text transform="translate(350.2 486.5) scale(0.8 1)" font-size="7.2" text-anchor="start" fill="#3333e6" color="#3333e6" font-weight="bold" dominant-baseline="central">40</text>
<line x1="347.5" y1="466.5" x2="345" y2="466.5" stroke="#3c3cf0" stroke-width="1.1"/>
<text transform="translate(350.2 466.5) scale(0.8 1)" font-size="7.2" text-anchor="start" fill="#3333e6" color="#3333e6" font-weight="bold" dominant-baseline="central">60</text>
<line x1="347.5" y1="446.5" x2="345" y2="446.5" stroke="#3c3cf0" stroke-width="1.1"/>
<text transform="translate(350.2 446.5) scale(0.8 1)" font-size="7.2" text-anchor="start" fill="#3333e6" color="#3333e6" font-weight="bold" dominant-baseline="central">80</text>
<line x1="347.5" y1="426.5" x2="345" y2="426.5" stroke="#3c3cf0" stroke-width="1.1"/>
<text transform="translate(350.2 426.5) scale(0.8 1)" font-size="7.2" text-anchor="start" fill="#3333e6" color="#3333e6" font-weight="bold" dominant-baseline="central">100</text>
<line x1="347.5" y1="516.5" x2="346" y2="516.5" stroke="#3c3cf0" stroke-width="1.1"/>
<line x1="347.5" y1="496.5" x2="346" y2="496.5" stroke="#3c3cf0" stroke-width="1.1"/>
<line x1="347.5" y1="476.5" x2="346" y2="476.5" stroke="#3c3cf0" stroke-width="1.1"/>
<line x1="347.5" y1="456.5" x2="346" y2="456.5" stroke="#3c3cf0" stroke-width="1.1"/>
<line x1="347.5" y1="436.5" x2="346" y2="436.5" stroke="#3c3cf0" stroke-width="1.1"/>
<text transform="translate(364.2 468.5) rotate(90)" font-size="8.6" text-anchor="middle" fill="#3333e6" color="#3333e6" font-weight="bold" dominant-baseline="central">Coulombic Efficiency (%)</text>
<text transform="translate(202 478.5) rotate(-90)" font-size="8.1" text-anchor="middle" fill="#111" color="#111" font-weight="bold" dominant-baseline="central">Specific Capacity (mAh g<tspan font-size="5" dy="-2.6">-1</tspan><tspan dy="2.6">)</tspan></text>
<text transform="translate(298.5 443.1) scale(0.746 1)" font-size="7.8" text-anchor="middle" fill="#111" color="#111" font-weight="bold" dominant-baseline="central">Pt/LiCoO<tspan font-size="5.2" dy="1.8">2</tspan><tspan dy="-1.8">@ 0.5 C-rate</tspan></text>
<line x1="277" y1="495.6" x2="285.6" y2="495.6" stroke="#2e9a2e" stroke-width="1"/>
<circle cx="281.3" cy="495.6" r="1.4" fill="#2e9a2e"/>
<text transform="translate(287.2 494.8) scale(0.85 1)" font-size="6.8" text-anchor="start" fill="#111" color="#111" font-weight="bold" dominant-baseline="central">Discharge</text>
<rect x="280.2" y="503.5" width="2.2" height="2.2" fill="#e23c8c"/>
<text transform="translate(287.2 503.7) scale(0.85 1)" font-size="6.8" text-anchor="start" fill="#111" color="#111" font-weight="bold" dominant-baseline="central">Charge</text>
<line x1="277" y1="513.2" x2="285.6" y2="513.2" stroke="#6a6af0" stroke-width="1"/>
<circle cx="281.3" cy="513.2" r="1.4" fill="#2a2ae8"/>
<text transform="translate(287.2 512.4) scale(0.85 1)" font-size="6.8" text-anchor="start" fill="#111" color="#111" font-weight="bold" dominant-baseline="central">Coulombic Efficiency</text>
<text transform="translate(288.8 541.4) scale(0.82 1)" font-size="7.8" text-anchor="middle" fill="#111" color="#111" font-weight="bold" dominant-baseline="central">Cycle Number</text>
<text transform="translate(199.4 341) rotate(-90)" font-size="8.3" text-anchor="middle" fill="#111" color="#111" font-weight="bold" dominant-baseline="central">Potential (V vs. Ag/AgCl)</text>
<text x="295" y="406.7" font-size="9.4" text-anchor="middle" fill="#111" color="#111" font-weight="bold" dominant-baseline="central">Discharge Capacity (mAh g<tspan font-size="6" dy="-3">-1</tspan><tspan dy="3">)</tspan></text>
</svg></body></html>
